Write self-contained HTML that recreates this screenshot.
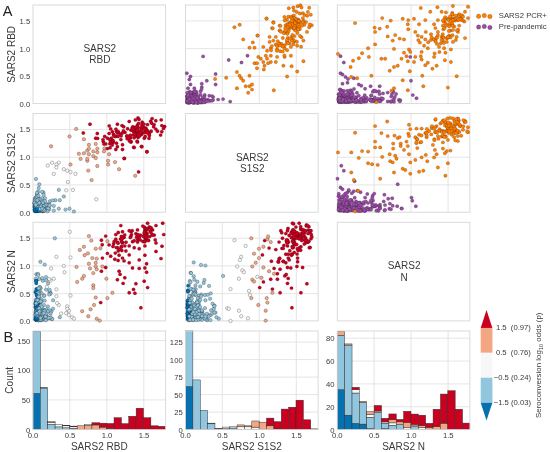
<!DOCTYPE html>
<html><head><meta charset="utf-8"><title>Figure</title>
<style>html,body{margin:0;padding:0;background:#fff}svg{display:block}text{font-family:"Liberation Sans",Arial,sans-serif;fill:#3a3a3a}.t{font-size:7.7px}.l{font-size:10px}.g{font-size:7.7px}.P{font-size:14.5px;fill:#222}.pt circle{stroke:#000;stroke-opacity:.5;stroke-width:.32}.bar rect{stroke:#2b2b2b;stroke-width:.45}.pt .k1,.pt .k2,.pt .k3{stroke-opacity:.68;stroke-width:.36}.k0{fill:#0571b0}.k1{fill:#92c5de}.k2{fill:#f7f7f7}.k3{fill:#f4a582}.k4{fill:#ca0020}</style></head><body>
<svg width="550" height="452" viewBox="0 0 550 452">
<rect width="550" height="452" fill="#fff"/>
<defs>
<clipPath id="c00"><rect x="32.4" y="4.4" width="133.8" height="99.8"/></clipPath>
<clipPath id="c01"><rect x="184.9" y="4.4" width="133.8" height="99.8"/></clipPath>
<clipPath id="c02"><rect x="336.7" y="4.4" width="133.8" height="99.8"/></clipPath>
<clipPath id="c10"><rect x="32.4" y="113.0" width="133.8" height="99.8"/></clipPath>
<clipPath id="c11"><rect x="184.9" y="113.0" width="133.8" height="99.8"/></clipPath>
<clipPath id="c12"><rect x="336.7" y="113.0" width="133.8" height="99.8"/></clipPath>
<clipPath id="c20"><rect x="32.4" y="221.7" width="133.8" height="99.8"/></clipPath>
<clipPath id="c21"><rect x="184.9" y="221.7" width="133.8" height="99.8"/></clipPath>
<clipPath id="c22"><rect x="336.7" y="221.7" width="133.8" height="99.8"/></clipPath>
<clipPath id="c30"><rect x="32.4" y="330.4" width="133.8" height="99.8"/></clipPath>
<clipPath id="c31"><rect x="184.9" y="330.4" width="133.8" height="99.8"/></clipPath>
<clipPath id="c32"><rect x="336.7" y="330.4" width="133.8" height="99.8"/></clipPath>
</defs>
<path d="M222.30 5.00V103.60M259.30 5.00V103.60M296.30 5.00V103.60M185.50 76.30H318.10M185.50 48.60H318.10M185.50 20.90H318.10" stroke="#dedede" stroke-width=".8" fill="none"/>
<rect x="185.50" y="5.00" width="132.60" height="98.60" fill="none" stroke="#d6d6d6" stroke-width=".9"/>
<g class="pt">
<g fill="#984ea3">
<circle cx="203.1" cy="56.4" r="1.72"/>
<circle cx="228.7" cy="60.0" r="1.72"/>
<circle cx="241.5" cy="62.5" r="1.72"/>
<circle cx="247.5" cy="55.7" r="1.72"/>
<circle cx="186.8" cy="73.3" r="1.72"/>
<circle cx="190.5" cy="76.5" r="1.72"/>
<circle cx="215.6" cy="74.0" r="1.72"/>
<circle cx="189.3" cy="79.5" r="1.72"/>
<circle cx="206.8" cy="80.8" r="1.72"/>
<circle cx="190.5" cy="84.5" r="1.72"/>
<circle cx="201.8" cy="83.8" r="1.72"/>
<circle cx="215.6" cy="84.5" r="1.72"/>
<circle cx="188.0" cy="88.3" r="1.72"/>
<circle cx="194.3" cy="88.3" r="1.72"/>
<circle cx="201.8" cy="87.1" r="1.72"/>
<circle cx="193.0" cy="92.1" r="1.72"/>
<circle cx="218.1" cy="99.6" r="1.72"/>
<circle cx="223.1" cy="99.1" r="1.72"/>
<circle cx="230.2" cy="101.6" r="1.72"/>
<circle cx="213.1" cy="97.1" r="1.72"/>
<circle cx="209.3" cy="95.8" r="1.72"/>
<circle cx="189.0" cy="100.0" r="1.72"/>
<circle cx="190.3" cy="99.5" r="1.72"/>
<circle cx="193.8" cy="102.4" r="1.72"/>
<circle cx="187.2" cy="96.4" r="1.72"/>
<circle cx="189.2" cy="101.8" r="1.72"/>
<circle cx="199.5" cy="100.4" r="1.72"/>
<circle cx="194.1" cy="102.1" r="1.72"/>
<circle cx="194.0" cy="95.7" r="1.72"/>
<circle cx="192.2" cy="98.0" r="1.72"/>
<circle cx="194.7" cy="102.4" r="1.72"/>
<circle cx="196.8" cy="99.6" r="1.72"/>
<circle cx="189.6" cy="102.6" r="1.72"/>
<circle cx="200.8" cy="100.5" r="1.72"/>
<circle cx="195.8" cy="95.4" r="1.72"/>
<circle cx="195.7" cy="93.9" r="1.72"/>
<circle cx="190.6" cy="97.1" r="1.72"/>
<circle cx="191.2" cy="93.3" r="1.72"/>
<circle cx="201.5" cy="102.3" r="1.72"/>
<circle cx="188.1" cy="101.8" r="1.72"/>
<circle cx="210.1" cy="100.7" r="1.72"/>
<circle cx="193.9" cy="101.4" r="1.72"/>
<circle cx="192.0" cy="101.0" r="1.72"/>
<circle cx="190.1" cy="99.6" r="1.72"/>
<circle cx="193.1" cy="94.6" r="1.72"/>
<circle cx="194.9" cy="93.6" r="1.72"/>
<circle cx="194.7" cy="102.1" r="1.72"/>
<circle cx="200.6" cy="91.2" r="1.72"/>
<circle cx="203.2" cy="99.8" r="1.72"/>
<circle cx="195.7" cy="101.9" r="1.72"/>
<circle cx="199.3" cy="99.7" r="1.72"/>
<circle cx="189.4" cy="102.4" r="1.72"/>
<circle cx="187.8" cy="97.1" r="1.72"/>
<circle cx="190.7" cy="102.1" r="1.72"/>
<circle cx="189.5" cy="97.6" r="1.72"/>
<circle cx="201.2" cy="102.5" r="1.72"/>
<circle cx="193.6" cy="102.5" r="1.72"/>
<circle cx="195.8" cy="101.3" r="1.72"/>
<circle cx="201.6" cy="89.1" r="1.72"/>
<circle cx="189.7" cy="102.4" r="1.72"/>
<circle cx="193.4" cy="102.6" r="1.72"/>
<circle cx="188.6" cy="100.9" r="1.72"/>
<circle cx="193.6" cy="102.1" r="1.72"/>
<circle cx="187.4" cy="95.7" r="1.72"/>
<circle cx="189.7" cy="91.7" r="1.72"/>
<circle cx="202.6" cy="101.0" r="1.72"/>
<circle cx="191.4" cy="100.1" r="1.72"/>
<circle cx="194.2" cy="99.6" r="1.72"/>
<circle cx="192.7" cy="99.3" r="1.72"/>
<circle cx="206.4" cy="100.2" r="1.72"/>
<circle cx="191.0" cy="98.3" r="1.72"/>
<circle cx="189.0" cy="101.4" r="1.72"/>
<circle cx="213.1" cy="100.1" r="1.72"/>
<circle cx="192.6" cy="102.6" r="1.72"/>
<circle cx="190.8" cy="99.7" r="1.72"/>
<circle cx="187.3" cy="99.4" r="1.72"/>
<circle cx="194.0" cy="102.5" r="1.72"/>
<circle cx="193.9" cy="100.5" r="1.72"/>
<circle cx="194.9" cy="101.2" r="1.72"/>
<circle cx="195.5" cy="98.1" r="1.72"/>
<circle cx="187.3" cy="102.5" r="1.72"/>
<circle cx="194.8" cy="91.3" r="1.72"/>
<circle cx="189.1" cy="100.6" r="1.72"/>
<circle cx="193.3" cy="101.3" r="1.72"/>
<circle cx="190.2" cy="101.4" r="1.72"/>
<circle cx="190.3" cy="99.6" r="1.72"/>
<circle cx="189.6" cy="101.0" r="1.72"/>
<circle cx="197.2" cy="102.6" r="1.72"/>
<circle cx="192.9" cy="98.1" r="1.72"/>
<circle cx="189.7" cy="101.8" r="1.72"/>
<circle cx="198.2" cy="101.7" r="1.72"/>
<circle cx="188.6" cy="100.7" r="1.72"/>
<circle cx="195.3" cy="102.3" r="1.72"/>
<circle cx="189.8" cy="101.3" r="1.72"/>
<circle cx="199.4" cy="100.7" r="1.72"/>
<circle cx="200.3" cy="102.0" r="1.72"/>
<circle cx="189.9" cy="99.1" r="1.72"/>
<circle cx="201.9" cy="100.6" r="1.72"/>
<circle cx="188.9" cy="102.2" r="1.72"/>
<circle cx="192.3" cy="101.9" r="1.72"/>
<circle cx="198.3" cy="96.4" r="1.72"/>
<circle cx="188.5" cy="101.5" r="1.72"/>
<circle cx="198.4" cy="99.1" r="1.72"/>
<circle cx="198.3" cy="101.2" r="1.72"/>
<circle cx="188.1" cy="101.5" r="1.72"/>
<circle cx="197.9" cy="101.6" r="1.72"/>
<circle cx="190.0" cy="100.8" r="1.72"/>
<circle cx="190.9" cy="100.9" r="1.72"/>
<circle cx="204.4" cy="102.1" r="1.72"/>
<circle cx="187.2" cy="92.8" r="1.72"/>
<circle cx="191.0" cy="92.4" r="1.72"/>
<circle cx="205.0" cy="101.8" r="1.72"/>
<circle cx="196.5" cy="96.4" r="1.72"/>
<circle cx="194.6" cy="100.2" r="1.72"/>
<circle cx="189.5" cy="101.2" r="1.72"/>
<circle cx="188.9" cy="102.4" r="1.72"/>
<circle cx="193.2" cy="101.5" r="1.72"/>
<circle cx="198.5" cy="102.5" r="1.72"/>
<circle cx="203.1" cy="98.6" r="1.72"/>
<circle cx="204.7" cy="94.9" r="1.72"/>
<circle cx="202.8" cy="99.7" r="1.72"/>
<circle cx="187.2" cy="98.0" r="1.72"/>
<circle cx="188.4" cy="101.4" r="1.72"/>
<circle cx="194.6" cy="100.1" r="1.72"/>
<circle cx="190.8" cy="93.1" r="1.72"/>
<circle cx="193.6" cy="101.2" r="1.72"/>
<circle cx="189.1" cy="95.9" r="1.72"/>
<circle cx="191.6" cy="97.4" r="1.72"/>
<circle cx="190.1" cy="101.9" r="1.72"/>
<circle cx="192.4" cy="96.8" r="1.72"/>
<circle cx="188.4" cy="97.3" r="1.72"/>
<circle cx="204.5" cy="97.0" r="1.72"/>
<circle cx="199.0" cy="102.6" r="1.72"/>
<circle cx="193.9" cy="95.9" r="1.72"/>
<circle cx="187.5" cy="101.6" r="1.72"/>
<circle cx="189.3" cy="100.1" r="1.72"/>
<circle cx="190.9" cy="100.5" r="1.72"/>
<circle cx="197.4" cy="102.7" r="1.72"/>
<circle cx="187.5" cy="102.2" r="1.72"/>
<circle cx="188.1" cy="102.4" r="1.72"/>
<circle cx="212.2" cy="96.1" r="1.72"/>
<circle cx="187.8" cy="100.3" r="1.72"/>
<circle cx="189.7" cy="101.4" r="1.72"/>
<circle cx="190.1" cy="99.1" r="1.72"/>
<circle cx="193.2" cy="101.1" r="1.72"/>
<circle cx="188.6" cy="101.3" r="1.72"/>
<circle cx="188.0" cy="99.9" r="1.72"/>
<circle cx="195.7" cy="101.0" r="1.72"/>
<circle cx="187.7" cy="102.0" r="1.72"/>
<circle cx="190.3" cy="99.5" r="1.72"/>
<circle cx="197.5" cy="101.0" r="1.72"/>
<circle cx="198.1" cy="99.3" r="1.72"/>
<circle cx="191.0" cy="101.1" r="1.72"/>
<circle cx="191.8" cy="98.5" r="1.72"/>
<circle cx="190.9" cy="98.6" r="1.72"/>
<circle cx="191.4" cy="101.7" r="1.72"/>
<circle cx="192.4" cy="98.6" r="1.72"/>
<circle cx="187.7" cy="100.8" r="1.72"/>
<circle cx="190.9" cy="95.4" r="1.72"/>
<circle cx="205.9" cy="101.1" r="1.72"/>
<circle cx="202.7" cy="97.3" r="1.72"/>
<circle cx="189.2" cy="100.5" r="1.72"/>
<circle cx="188.0" cy="96.9" r="1.72"/>
<circle cx="194.5" cy="95.2" r="1.72"/>
<circle cx="197.9" cy="98.9" r="1.72"/>
<circle cx="196.2" cy="99.8" r="1.72"/>
<circle cx="187.9" cy="99.6" r="1.72"/>
<circle cx="187.2" cy="102.1" r="1.72"/>
<circle cx="197.3" cy="102.5" r="1.72"/>
<circle cx="187.8" cy="102.3" r="1.72"/>
<circle cx="201.6" cy="102.0" r="1.72"/>
<circle cx="187.3" cy="96.3" r="1.72"/>
<circle cx="188.0" cy="96.3" r="1.72"/>
<circle cx="194.8" cy="96.5" r="1.72"/>
<circle cx="207.9" cy="99.7" r="1.72"/>
<circle cx="198.1" cy="102.5" r="1.72"/>
<circle cx="197.1" cy="100.2" r="1.72"/>
<circle cx="195.7" cy="102.3" r="1.72"/>
<circle cx="196.6" cy="93.3" r="1.72"/>
<circle cx="187.6" cy="101.3" r="1.72"/>
<circle cx="192.8" cy="96.6" r="1.72"/>
<circle cx="189.0" cy="102.0" r="1.72"/>
<circle cx="189.1" cy="99.4" r="1.72"/>
<circle cx="196.7" cy="101.0" r="1.72"/>
<circle cx="190.3" cy="100.9" r="1.72"/>
<circle cx="190.1" cy="100.8" r="1.72"/>
<circle cx="187.7" cy="100.3" r="1.72"/>
<circle cx="211.8" cy="100.8" r="1.72"/>
<circle cx="196.5" cy="102.1" r="1.72"/>
<circle cx="195.1" cy="97.8" r="1.72"/>
<circle cx="194.8" cy="100.2" r="1.72"/>
<circle cx="191.7" cy="99.1" r="1.72"/>
<circle cx="202.7" cy="102.1" r="1.72"/>
<circle cx="187.8" cy="97.9" r="1.72"/>
<circle cx="204.1" cy="100.2" r="1.72"/>
<circle cx="191.1" cy="98.3" r="1.72"/>
<circle cx="188.6" cy="101.6" r="1.72"/>
<circle cx="188.7" cy="99.6" r="1.72"/>
<circle cx="189.7" cy="101.8" r="1.72"/>
<circle cx="195.1" cy="92.1" r="1.72"/>
<circle cx="189.5" cy="98.5" r="1.72"/>
<circle cx="190.8" cy="96.1" r="1.72"/>
<circle cx="193.1" cy="101.6" r="1.72"/>
<circle cx="188.8" cy="102.6" r="1.72"/>
<circle cx="191.6" cy="101.0" r="1.72"/>
<circle cx="188.4" cy="101.1" r="1.72"/>
<circle cx="189.8" cy="97.6" r="1.72"/>
<circle cx="191.6" cy="99.5" r="1.72"/>
<circle cx="191.4" cy="96.5" r="1.72"/>
<circle cx="198.9" cy="99.9" r="1.72"/>
<circle cx="191.6" cy="98.3" r="1.72"/>
<circle cx="200.4" cy="100.9" r="1.72"/>
<circle cx="196.2" cy="91.6" r="1.72"/>
<circle cx="191.4" cy="101.8" r="1.72"/>
<circle cx="189.0" cy="98.3" r="1.72"/>
<circle cx="194.8" cy="91.7" r="1.72"/>
<circle cx="200.2" cy="101.7" r="1.72"/>
<circle cx="188.6" cy="101.6" r="1.72"/>
<circle cx="188.6" cy="98.5" r="1.72"/>
<circle cx="200.5" cy="94.8" r="1.72"/>
<circle cx="189.2" cy="95.8" r="1.72"/>
<circle cx="189.7" cy="100.8" r="1.72"/>
<circle cx="196.0" cy="102.4" r="1.72"/>
<circle cx="187.8" cy="96.5" r="1.72"/>
<circle cx="189.5" cy="101.2" r="1.72"/>
<circle cx="193.1" cy="98.8" r="1.72"/>
<circle cx="187.2" cy="101.3" r="1.72"/>
<circle cx="191.1" cy="100.4" r="1.72"/>
<circle cx="188.8" cy="99.6" r="1.72"/>
<circle cx="208.3" cy="101.0" r="1.72"/>
<circle cx="192.5" cy="102.2" r="1.72"/>
<circle cx="189.3" cy="98.9" r="1.72"/>
<circle cx="188.0" cy="95.2" r="1.72"/>
<circle cx="203.5" cy="102.3" r="1.72"/>
<circle cx="206.5" cy="101.1" r="1.72"/>
<circle cx="197.2" cy="97.8" r="1.72"/>
</g>
<g fill="#ff7f00">
<circle cx="234.4" cy="27.3" r="1.72"/>
<circle cx="239.7" cy="24.8" r="1.72"/>
<circle cx="266.6" cy="18.6" r="1.72"/>
<circle cx="273.3" cy="22.3" r="1.72"/>
<circle cx="272.1" cy="28.1" r="1.72"/>
<circle cx="279.6" cy="25.6" r="1.72"/>
<circle cx="279.6" cy="30.6" r="1.72"/>
<circle cx="257.5" cy="35.6" r="1.72"/>
<circle cx="243.2" cy="39.4" r="1.72"/>
<circle cx="252.8" cy="42.4" r="1.72"/>
<circle cx="269.6" cy="36.9" r="1.72"/>
<circle cx="275.8" cy="36.9" r="1.72"/>
<circle cx="269.6" cy="41.9" r="1.72"/>
<circle cx="273.3" cy="40.6" r="1.72"/>
<circle cx="249.5" cy="47.7" r="1.72"/>
<circle cx="254.5" cy="47.7" r="1.72"/>
<circle cx="263.3" cy="46.9" r="1.72"/>
<circle cx="267.1" cy="50.7" r="1.72"/>
<circle cx="270.8" cy="48.2" r="1.72"/>
<circle cx="277.1" cy="49.4" r="1.72"/>
<circle cx="282.1" cy="45.7" r="1.72"/>
<circle cx="284.6" cy="48.2" r="1.72"/>
<circle cx="287.1" cy="50.2" r="1.72"/>
<circle cx="290.9" cy="46.9" r="1.72"/>
<circle cx="293.4" cy="44.4" r="1.72"/>
<circle cx="297.2" cy="45.7" r="1.72"/>
<circle cx="303.4" cy="40.6" r="1.72"/>
<circle cx="258.3" cy="56.9" r="1.72"/>
<circle cx="260.8" cy="58.7" r="1.72"/>
<circle cx="265.8" cy="55.7" r="1.72"/>
<circle cx="267.1" cy="58.7" r="1.72"/>
<circle cx="270.8" cy="55.7" r="1.72"/>
<circle cx="277.1" cy="56.9" r="1.72"/>
<circle cx="284.6" cy="56.9" r="1.72"/>
<circle cx="290.9" cy="55.7" r="1.72"/>
<circle cx="254.5" cy="63.2" r="1.72"/>
<circle cx="257.0" cy="63.2" r="1.72"/>
<circle cx="263.3" cy="62.0" r="1.72"/>
<circle cx="264.5" cy="65.7" r="1.72"/>
<circle cx="270.8" cy="62.0" r="1.72"/>
<circle cx="275.8" cy="62.0" r="1.72"/>
<circle cx="303.4" cy="61.2" r="1.72"/>
<circle cx="283.4" cy="65.7" r="1.72"/>
<circle cx="291.6" cy="66.2" r="1.72"/>
<circle cx="257.0" cy="68.2" r="1.72"/>
<circle cx="263.8" cy="69.5" r="1.72"/>
<circle cx="236.9" cy="72.0" r="1.72"/>
<circle cx="297.2" cy="71.5" r="1.72"/>
<circle cx="215.1" cy="79.0" r="1.72"/>
<circle cx="226.2" cy="77.8" r="1.72"/>
<circle cx="239.5" cy="75.8" r="1.72"/>
<circle cx="241.2" cy="78.3" r="1.72"/>
<circle cx="249.5" cy="75.8" r="1.72"/>
<circle cx="287.1" cy="76.5" r="1.72"/>
<circle cx="243.2" cy="80.8" r="1.72"/>
<circle cx="245.7" cy="86.3" r="1.72"/>
<circle cx="249.5" cy="86.3" r="1.72"/>
<circle cx="252.0" cy="84.5" r="1.72"/>
<circle cx="236.9" cy="88.3" r="1.72"/>
<circle cx="252.0" cy="89.6" r="1.72"/>
<circle cx="248.2" cy="92.8" r="1.72"/>
<circle cx="273.8" cy="90.3" r="1.72"/>
<circle cx="288.8" cy="8.3" r="1.72"/>
<circle cx="293.3" cy="7.5" r="1.72"/>
<circle cx="293.9" cy="10.6" r="1.72"/>
<circle cx="296.8" cy="11.9" r="1.72"/>
<circle cx="297.7" cy="6.2" r="1.72"/>
<circle cx="300.3" cy="5.3" r="1.72"/>
<circle cx="301.5" cy="7.5" r="1.72"/>
<circle cx="309.2" cy="7.8" r="1.72"/>
<circle cx="302.8" cy="13.2" r="1.72"/>
<circle cx="307.9" cy="11.9" r="1.72"/>
<circle cx="304.7" cy="15.1" r="1.72"/>
<circle cx="310.8" cy="14.7" r="1.72"/>
<circle cx="307.3" cy="15.7" r="1.72"/>
<circle cx="311.7" cy="25.3" r="1.72"/>
<circle cx="309.2" cy="27.2" r="1.72"/>
<circle cx="306.0" cy="22.1" r="1.72"/>
<circle cx="303.5" cy="20.8" r="1.72"/>
<circle cx="284.4" cy="17.0" r="1.72"/>
<circle cx="266.5" cy="18.5" r="1.72"/>
<circle cx="273.5" cy="22.7" r="1.72"/>
<circle cx="272.7" cy="28.5" r="1.72"/>
<circle cx="280.5" cy="25.9" r="1.72"/>
<circle cx="279.9" cy="30.4" r="1.72"/>
<circle cx="257.6" cy="35.5" r="1.72"/>
<circle cx="292.5" cy="16.5" r="1.72"/>
<circle cx="289.1" cy="28.9" r="1.72"/>
<circle cx="293.9" cy="15.4" r="1.72"/>
<circle cx="302.9" cy="22.3" r="1.72"/>
<circle cx="292.2" cy="22.9" r="1.72"/>
<circle cx="289.7" cy="22.6" r="1.72"/>
<circle cx="293.2" cy="28.3" r="1.72"/>
<circle cx="291.6" cy="23.5" r="1.72"/>
<circle cx="290.0" cy="27.3" r="1.72"/>
<circle cx="299.8" cy="13.5" r="1.72"/>
<circle cx="293.2" cy="24.0" r="1.72"/>
<circle cx="297.6" cy="22.5" r="1.72"/>
<circle cx="290.5" cy="17.0" r="1.72"/>
<circle cx="289.0" cy="25.9" r="1.72"/>
<circle cx="291.1" cy="26.2" r="1.72"/>
<circle cx="293.5" cy="19.9" r="1.72"/>
<circle cx="302.8" cy="18.1" r="1.72"/>
<circle cx="295.0" cy="27.1" r="1.72"/>
<circle cx="294.5" cy="25.9" r="1.72"/>
<circle cx="294.3" cy="18.1" r="1.72"/>
<circle cx="296.0" cy="22.7" r="1.72"/>
<circle cx="290.6" cy="22.7" r="1.72"/>
<circle cx="295.4" cy="25.7" r="1.72"/>
<circle cx="292.0" cy="18.8" r="1.72"/>
<circle cx="285.6" cy="25.2" r="1.72"/>
<circle cx="288.3" cy="16.7" r="1.72"/>
<circle cx="298.2" cy="19.4" r="1.72"/>
<circle cx="297.0" cy="20.5" r="1.72"/>
<circle cx="296.4" cy="28.2" r="1.72"/>
<circle cx="296.3" cy="19.4" r="1.72"/>
<circle cx="286.9" cy="19.8" r="1.72"/>
<circle cx="298.5" cy="27.7" r="1.72"/>
<circle cx="292.2" cy="23.7" r="1.72"/>
<circle cx="291.9" cy="20.9" r="1.72"/>
<circle cx="287.7" cy="24.0" r="1.72"/>
<circle cx="296.1" cy="18.9" r="1.72"/>
<circle cx="295.1" cy="23.0" r="1.72"/>
<circle cx="298.7" cy="29.5" r="1.72"/>
<circle cx="300.0" cy="22.5" r="1.72"/>
<circle cx="287.9" cy="24.8" r="1.72"/>
<circle cx="284.6" cy="31.9" r="1.72"/>
<circle cx="293.0" cy="25.4" r="1.72"/>
<circle cx="298.9" cy="25.0" r="1.72"/>
<circle cx="287.6" cy="27.0" r="1.72"/>
<circle cx="309.8" cy="24.5" r="1.72"/>
<circle cx="287.5" cy="42.9" r="1.72"/>
<circle cx="282.8" cy="38.0" r="1.72"/>
<circle cx="297.5" cy="20.5" r="1.72"/>
<circle cx="304.4" cy="24.8" r="1.72"/>
<circle cx="287.0" cy="42.0" r="1.72"/>
<circle cx="271.1" cy="50.4" r="1.72"/>
<circle cx="297.4" cy="33.0" r="1.72"/>
<circle cx="296.9" cy="41.8" r="1.72"/>
<circle cx="302.0" cy="25.7" r="1.72"/>
<circle cx="293.7" cy="28.4" r="1.72"/>
<circle cx="271.8" cy="46.1" r="1.72"/>
<circle cx="284.7" cy="20.5" r="1.72"/>
<circle cx="291.6" cy="37.0" r="1.72"/>
<circle cx="301.5" cy="37.2" r="1.72"/>
<circle cx="307.0" cy="31.9" r="1.72"/>
<circle cx="292.8" cy="39.9" r="1.72"/>
<circle cx="301.1" cy="46.8" r="1.72"/>
<circle cx="300.0" cy="35.9" r="1.72"/>
<circle cx="293.8" cy="41.5" r="1.72"/>
<circle cx="295.5" cy="29.4" r="1.72"/>
<circle cx="299.0" cy="26.8" r="1.72"/>
<circle cx="299.3" cy="21.0" r="1.72"/>
<circle cx="289.6" cy="43.5" r="1.72"/>
<circle cx="281.0" cy="31.7" r="1.72"/>
<circle cx="289.7" cy="24.7" r="1.72"/>
<circle cx="293.8" cy="40.3" r="1.72"/>
<circle cx="291.6" cy="40.6" r="1.72"/>
<circle cx="285.2" cy="28.1" r="1.72"/>
<circle cx="287.7" cy="37.9" r="1.72"/>
<circle cx="299.9" cy="29.0" r="1.72"/>
<circle cx="294.4" cy="36.1" r="1.72"/>
<circle cx="287.2" cy="33.3" r="1.72"/>
<circle cx="294.8" cy="26.3" r="1.72"/>
<circle cx="288.5" cy="31.2" r="1.72"/>
<circle cx="297.9" cy="29.3" r="1.72"/>
<circle cx="298.8" cy="21.1" r="1.72"/>
<circle cx="295.2" cy="30.5" r="1.72"/>
<circle cx="284.0" cy="33.3" r="1.72"/>
<circle cx="292.4" cy="35.0" r="1.72"/>
<circle cx="285.4" cy="30.7" r="1.72"/>
<circle cx="294.2" cy="27.9" r="1.72"/>
<circle cx="287.6" cy="33.7" r="1.72"/>
<circle cx="287.0" cy="40.2" r="1.72"/>
<circle cx="279.9" cy="43.7" r="1.72"/>
<circle cx="276.8" cy="50.8" r="1.72"/>
<circle cx="280.1" cy="51.2" r="1.72"/>
<circle cx="284.7" cy="45.3" r="1.72"/>
<circle cx="277.8" cy="41.3" r="1.72"/>
<circle cx="282.7" cy="51.4" r="1.72"/>
<circle cx="275.6" cy="44.5" r="1.72"/>
<circle cx="268.1" cy="63.3" r="1.72"/>
<circle cx="277.2" cy="46.3" r="1.72"/>
<circle cx="281.6" cy="43.9" r="1.72"/>
<circle cx="279.0" cy="44.0" r="1.72"/>
<circle cx="290.0" cy="38.5" r="1.72"/>
<circle cx="282.6" cy="46.3" r="1.72"/>
<circle cx="287.8" cy="43.2" r="1.72"/>
<circle cx="284.4" cy="55.5" r="1.72"/>
<circle cx="280.0" cy="45.6" r="1.72"/>
</g>
</g>
<path d="M69.80 113.60V212.20M106.80 113.60V212.20M143.80 113.60V212.20M33.00 184.90H165.60M33.00 157.20H165.60M33.00 129.50H165.60" stroke="#dedede" stroke-width=".8" fill="none"/>
<rect x="33.00" y="113.60" width="132.60" height="98.60" fill="none" stroke="#d6d6d6" stroke-width=".9"/>
<g class="pt">
<circle class="k1" cx="35.1" cy="204.8" r="1.72"/>
<circle class="k4" cx="120.9" cy="139.6" r="1.72"/>
<circle class="k4" cx="120.3" cy="134.2" r="1.72"/>
<circle class="k4" cx="112.9" cy="142.5" r="1.72"/>
<circle class="k4" cx="122.3" cy="133.0" r="1.72"/>
<circle class="k4" cx="110.7" cy="140.1" r="1.72"/>
<circle class="k4" cx="118.4" cy="132.1" r="1.72"/>
<circle class="k1" cx="43.0" cy="211.1" r="1.72"/>
<circle class="k3" cx="93.3" cy="156.1" r="1.72"/>
<circle class="k1" cx="44.3" cy="208.4" r="1.72"/>
<circle class="k1" cx="43.4" cy="208.5" r="1.72"/>
<circle class="k1" cx="45.3" cy="206.7" r="1.72"/>
<circle class="k1" cx="34.6" cy="203.6" r="1.72"/>
<circle class="k4" cx="127.2" cy="136.3" r="1.72"/>
<circle class="k4" cx="130.8" cy="142.0" r="1.72"/>
<circle class="k1" cx="38.7" cy="188.0" r="1.72"/>
<circle class="k3" cx="51.1" cy="146.3" r="1.72"/>
<circle class="k2" cx="66.2" cy="190.3" r="1.72"/>
<circle class="k0" cx="35.8" cy="208.0" r="1.72"/>
<circle class="k4" cx="136.8" cy="133.4" r="1.72"/>
<circle class="k2" cx="96.3" cy="199.3" r="1.72"/>
<circle class="k1" cx="47.1" cy="204.2" r="1.72"/>
<circle class="k0" cx="34.6" cy="207.2" r="1.72"/>
<circle class="k4" cx="133.7" cy="131.4" r="1.72"/>
<circle class="k4" cx="141.4" cy="133.7" r="1.72"/>
<circle class="k1" cx="63.8" cy="196.5" r="1.72"/>
<circle class="k4" cx="103.3" cy="141.6" r="1.72"/>
<circle class="k4" cx="117.4" cy="146.7" r="1.72"/>
<circle class="k1" cx="42.9" cy="205.5" r="1.72"/>
<circle class="k1" cx="39.3" cy="184.3" r="1.72"/>
<circle class="k3" cx="119.1" cy="169.2" r="1.72"/>
<circle class="k4" cx="137.2" cy="134.9" r="1.72"/>
<circle class="k1" cx="73.9" cy="211.5" r="1.72"/>
<circle class="k4" cx="113.3" cy="141.8" r="1.72"/>
<circle class="k4" cx="115.8" cy="149.5" r="1.72"/>
<circle class="k1" cx="36.8" cy="207.6" r="1.72"/>
<circle class="k4" cx="135.6" cy="130.5" r="1.72"/>
<circle class="k4" cx="138.6" cy="171.9" r="1.72"/>
<circle class="k1" cx="37.9" cy="203.8" r="1.72"/>
<circle class="k1" cx="37.5" cy="201.0" r="1.72"/>
<circle class="k1" cx="55.4" cy="200.2" r="1.72"/>
<circle class="k2" cx="52.1" cy="162.7" r="1.72"/>
<circle class="k0" cx="36.3" cy="209.3" r="1.72"/>
<circle class="k0" cx="37.8" cy="210.8" r="1.72"/>
<circle class="k2" cx="58.8" cy="162.7" r="1.72"/>
<circle class="k1" cx="35.0" cy="199.0" r="1.72"/>
<circle class="k0" cx="35.2" cy="207.2" r="1.72"/>
<circle class="k1" cx="39.7" cy="206.8" r="1.72"/>
<circle class="k4" cx="114.4" cy="136.1" r="1.72"/>
<circle class="k0" cx="35.2" cy="209.9" r="1.72"/>
<circle class="k4" cx="131.2" cy="141.8" r="1.72"/>
<circle class="k1" cx="36.6" cy="205.4" r="1.72"/>
<circle class="k4" cx="141.4" cy="146.5" r="1.72"/>
<circle class="k4" cx="110.7" cy="128.9" r="1.72"/>
<circle class="k1" cx="36.5" cy="202.8" r="1.72"/>
<circle class="k4" cx="155.8" cy="129.1" r="1.72"/>
<circle class="k0" cx="34.9" cy="209.9" r="1.72"/>
<circle class="k0" cx="38.6" cy="210.7" r="1.72"/>
<circle class="k1" cx="42.9" cy="211.1" r="1.72"/>
<circle class="k0" cx="35.8" cy="209.3" r="1.72"/>
<circle class="k0" cx="38.6" cy="210.0" r="1.72"/>
<circle class="k4" cx="134.8" cy="127.8" r="1.72"/>
<circle class="k1" cx="38.5" cy="199.5" r="1.72"/>
<circle class="k3" cx="97.3" cy="166.0" r="1.72"/>
<circle class="k1" cx="36.8" cy="199.6" r="1.72"/>
<circle class="k0" cx="37.4" cy="209.7" r="1.72"/>
<circle class="k1" cx="40.4" cy="208.2" r="1.72"/>
<circle class="k4" cx="135.7" cy="136.0" r="1.72"/>
<circle class="k4" cx="149.0" cy="138.4" r="1.72"/>
<circle class="k4" cx="131.0" cy="130.3" r="1.72"/>
<circle class="k1" cx="38.7" cy="208.9" r="1.72"/>
<circle class="k1" cx="37.2" cy="194.1" r="1.72"/>
<circle class="k4" cx="164.6" cy="126.5" r="1.72"/>
<circle class="k1" cx="47.4" cy="208.5" r="1.72"/>
<circle class="k4" cx="122.0" cy="125.6" r="1.72"/>
<circle class="k1" cx="41.1" cy="203.7" r="1.72"/>
<circle class="k4" cx="161.2" cy="119.9" r="1.72"/>
<circle class="k1" cx="34.9" cy="206.1" r="1.72"/>
<circle class="k0" cx="34.7" cy="210.0" r="1.72"/>
<circle class="k0" cx="35.9" cy="208.1" r="1.72"/>
<circle class="k4" cx="124.4" cy="158.4" r="1.72"/>
<circle class="k4" cx="138.0" cy="118.0" r="1.72"/>
<circle class="k1" cx="35.4" cy="205.5" r="1.72"/>
<circle class="k0" cx="35.7" cy="209.3" r="1.72"/>
<circle class="k1" cx="46.7" cy="205.4" r="1.72"/>
<circle class="k1" cx="43.9" cy="206.1" r="1.72"/>
<circle class="k0" cx="36.7" cy="208.3" r="1.72"/>
<circle class="k0" cx="36.6" cy="209.5" r="1.72"/>
<circle class="k0" cx="36.0" cy="211.0" r="1.72"/>
<circle class="k4" cx="149.0" cy="133.9" r="1.72"/>
<circle class="k0" cx="35.1" cy="210.7" r="1.72"/>
<circle class="k4" cx="136.5" cy="130.6" r="1.72"/>
<circle class="k4" cx="117.4" cy="133.0" r="1.72"/>
<circle class="k4" cx="123.7" cy="126.7" r="1.72"/>
<circle class="k1" cx="37.5" cy="206.2" r="1.72"/>
<circle class="k4" cx="144.4" cy="128.6" r="1.72"/>
<circle class="k1" cx="35.3" cy="206.0" r="1.72"/>
<circle class="k4" cx="147.5" cy="124.6" r="1.72"/>
<circle class="k0" cx="37.1" cy="210.8" r="1.72"/>
<circle class="k3" cx="91.6" cy="180.1" r="1.72"/>
<circle class="k4" cx="157.5" cy="131.3" r="1.72"/>
<circle class="k1" cx="41.8" cy="210.3" r="1.72"/>
<circle class="k1" cx="37.5" cy="208.4" r="1.72"/>
<circle class="k3" cx="69.5" cy="136.4" r="1.72"/>
<circle class="k4" cx="132.3" cy="127.7" r="1.72"/>
<circle class="k1" cx="35.0" cy="204.6" r="1.72"/>
<circle class="k0" cx="36.0" cy="210.2" r="1.72"/>
<circle class="k1" cx="38.0" cy="191.8" r="1.72"/>
<circle class="k4" cx="163.5" cy="128.4" r="1.72"/>
<circle class="k1" cx="35.7" cy="197.8" r="1.72"/>
<circle class="k0" cx="37.4" cy="209.7" r="1.72"/>
<circle class="k4" cx="140.1" cy="132.6" r="1.72"/>
<circle class="k1" cx="36.8" cy="203.4" r="1.72"/>
<circle class="k1" cx="42.9" cy="204.2" r="1.72"/>
<circle class="k4" cx="141.4" cy="129.8" r="1.72"/>
<circle class="k4" cx="144.3" cy="138.2" r="1.72"/>
<circle class="k4" cx="150.7" cy="121.3" r="1.72"/>
<circle class="k1" cx="49.9" cy="201.2" r="1.72"/>
<circle class="k1" cx="41.6" cy="207.9" r="1.72"/>
<circle class="k4" cx="138.3" cy="127.6" r="1.72"/>
<circle class="k4" cx="83.3" cy="133.0" r="1.72"/>
<circle class="k1" cx="34.8" cy="202.7" r="1.72"/>
<circle class="k4" cx="139.7" cy="131.8" r="1.72"/>
<circle class="k1" cx="36.8" cy="204.8" r="1.72"/>
<circle class="k4" cx="116.4" cy="131.4" r="1.72"/>
<circle class="k4" cx="137.4" cy="125.3" r="1.72"/>
<circle class="k1" cx="47.2" cy="208.2" r="1.72"/>
<circle class="k1" cx="36.3" cy="206.6" r="1.72"/>
<circle class="k1" cx="42.8" cy="210.7" r="1.72"/>
<circle class="k4" cx="153.6" cy="126.8" r="1.72"/>
<circle class="k1" cx="35.0" cy="200.5" r="1.72"/>
<circle class="k3" cx="108.1" cy="160.8" r="1.72"/>
<circle class="k1" cx="39.6" cy="203.2" r="1.72"/>
<circle class="k4" cx="138.5" cy="123.5" r="1.72"/>
<circle class="k1" cx="41.4" cy="209.2" r="1.72"/>
<circle class="k4" cx="134.4" cy="131.1" r="1.72"/>
<circle class="k0" cx="36.5" cy="209.5" r="1.72"/>
<circle class="k1" cx="40.4" cy="209.9" r="1.72"/>
<circle class="k4" cx="125.0" cy="132.4" r="1.72"/>
<circle class="k1" cx="44.3" cy="204.7" r="1.72"/>
<circle class="k1" cx="43.7" cy="209.7" r="1.72"/>
<circle class="k1" cx="34.7" cy="203.7" r="1.72"/>
<circle class="k3" cx="83.9" cy="153.3" r="1.72"/>
<circle class="k0" cx="35.3" cy="208.5" r="1.72"/>
<circle class="k1" cx="35.8" cy="202.9" r="1.72"/>
<circle class="k1" cx="36.7" cy="196.8" r="1.72"/>
<circle class="k1" cx="37.9" cy="198.6" r="1.72"/>
<circle class="k1" cx="35.4" cy="201.4" r="1.72"/>
<circle class="k0" cx="34.7" cy="206.5" r="1.72"/>
<circle class="k1" cx="43.4" cy="192.5" r="1.72"/>
<circle class="k1" cx="36.2" cy="206.2" r="1.72"/>
<circle class="k1" cx="38.8" cy="208.9" r="1.72"/>
<circle class="k4" cx="141.5" cy="134.5" r="1.72"/>
<circle class="k4" cx="133.7" cy="147.2" r="1.72"/>
<circle class="k4" cx="139.7" cy="135.9" r="1.72"/>
<circle class="k1" cx="34.8" cy="206.4" r="1.72"/>
<circle class="k1" cx="37.5" cy="202.0" r="1.72"/>
<circle class="k4" cx="110.8" cy="141.7" r="1.72"/>
<circle class="k4" cx="115.6" cy="136.5" r="1.72"/>
<circle class="k1" cx="35.4" cy="198.3" r="1.72"/>
<circle class="k1" cx="37.9" cy="208.1" r="1.72"/>
<circle class="k0" cx="36.4" cy="210.9" r="1.72"/>
<circle class="k3" cx="88.3" cy="170.6" r="1.72"/>
<circle class="k1" cx="48.7" cy="206.8" r="1.72"/>
<circle class="k1" cx="41.8" cy="199.6" r="1.72"/>
<circle class="k1" cx="59.8" cy="200.2" r="1.72"/>
<circle class="k2" cx="56.4" cy="164.5" r="1.72"/>
<circle class="k4" cx="129.2" cy="121.5" r="1.72"/>
<circle class="k0" cx="36.4" cy="211.2" r="1.72"/>
<circle class="k1" cx="43.9" cy="211.0" r="1.72"/>
<circle class="k2" cx="70.5" cy="172.1" r="1.72"/>
<circle class="k1" cx="35.4" cy="204.2" r="1.72"/>
<circle class="k0" cx="36.2" cy="209.8" r="1.72"/>
<circle class="k1" cx="42.3" cy="210.5" r="1.72"/>
<circle class="k4" cx="146.5" cy="129.7" r="1.72"/>
<circle class="k2" cx="67.8" cy="182.0" r="1.72"/>
<circle class="k4" cx="138.7" cy="134.4" r="1.72"/>
<circle class="k3" cx="109.1" cy="154.2" r="1.72"/>
<circle class="k1" cx="40.0" cy="207.3" r="1.72"/>
<circle class="k1" cx="37.8" cy="196.8" r="1.72"/>
<circle class="k1" cx="40.4" cy="208.3" r="1.72"/>
<circle class="k1" cx="36.9" cy="201.3" r="1.72"/>
<circle class="k0" cx="35.9" cy="210.1" r="1.72"/>
<circle class="k1" cx="42.4" cy="207.3" r="1.72"/>
<circle class="k1" cx="40.7" cy="205.0" r="1.72"/>
<circle class="k2" cx="63.8" cy="169.2" r="1.72"/>
<circle class="k3" cx="87.3" cy="160.8" r="1.72"/>
<circle class="k1" cx="38.0" cy="205.7" r="1.72"/>
<circle class="k4" cx="127.6" cy="128.7" r="1.72"/>
<circle class="k0" cx="34.7" cy="209.4" r="1.72"/>
<circle class="k3" cx="97.3" cy="152.3" r="1.72"/>
<circle class="k1" cx="38.6" cy="208.5" r="1.72"/>
<circle class="k4" cx="160.6" cy="135.1" r="1.72"/>
<circle class="k1" cx="40.4" cy="207.9" r="1.72"/>
<circle class="k1" cx="37.9" cy="205.5" r="1.72"/>
<circle class="k2" cx="67.2" cy="170.7" r="1.72"/>
<circle class="k4" cx="115.9" cy="129.1" r="1.72"/>
<circle class="k3" cx="70.5" cy="164.5" r="1.72"/>
<circle class="k1" cx="38.8" cy="208.8" r="1.72"/>
<circle class="k1" cx="44.6" cy="205.7" r="1.72"/>
<circle class="k1" cx="38.7" cy="206.0" r="1.72"/>
<circle class="k4" cx="133.1" cy="134.9" r="1.72"/>
<circle class="k4" cx="95.7" cy="138.2" r="1.72"/>
<circle class="k1" cx="35.8" cy="201.4" r="1.72"/>
<circle class="k1" cx="35.5" cy="200.4" r="1.72"/>
<circle class="k1" cx="46.2" cy="204.8" r="1.72"/>
<circle class="k1" cx="37.9" cy="205.7" r="1.72"/>
<circle class="k4" cx="143.6" cy="127.6" r="1.72"/>
<circle class="k4" cx="135.9" cy="127.5" r="1.72"/>
<circle class="k3" cx="80.6" cy="158.9" r="1.72"/>
<circle class="k0" cx="38.0" cy="209.6" r="1.72"/>
<circle class="k0" cx="37.2" cy="210.2" r="1.72"/>
<circle class="k3" cx="108.1" cy="164.5" r="1.72"/>
<circle class="k1" cx="42.0" cy="210.7" r="1.72"/>
<circle class="k0" cx="34.9" cy="205.5" r="1.72"/>
<circle class="k1" cx="36.1" cy="206.7" r="1.72"/>
<circle class="k0" cx="37.1" cy="209.0" r="1.72"/>
<circle class="k3" cx="76.2" cy="128.9" r="1.72"/>
<circle class="k3" cx="115.1" cy="162.1" r="1.72"/>
<circle class="k4" cx="142.2" cy="122.2" r="1.72"/>
<circle class="k1" cx="42.7" cy="207.0" r="1.72"/>
<circle class="k4" cx="134.0" cy="131.9" r="1.72"/>
<circle class="k4" cx="146.9" cy="151.8" r="1.72"/>
<circle class="k1" cx="38.3" cy="202.4" r="1.72"/>
<circle class="k4" cx="135.3" cy="134.2" r="1.72"/>
<circle class="k1" cx="45.0" cy="198.1" r="1.72"/>
<circle class="k4" cx="124.1" cy="158.5" r="1.72"/>
<circle class="k4" cx="147.0" cy="151.8" r="1.72"/>
<circle class="k4" cx="116.5" cy="143.3" r="1.72"/>
<circle class="k1" cx="43.7" cy="206.2" r="1.72"/>
<circle class="k4" cx="161.8" cy="125.6" r="1.72"/>
<circle class="k1" cx="35.4" cy="206.4" r="1.72"/>
<circle class="k4" cx="97.3" cy="133.5" r="1.72"/>
<circle class="k1" cx="49.2" cy="209.3" r="1.72"/>
<circle class="k0" cx="36.2" cy="210.3" r="1.72"/>
<circle class="k4" cx="137.7" cy="132.0" r="1.72"/>
<circle class="k4" cx="151.6" cy="123.2" r="1.72"/>
<circle class="k1" cx="36.4" cy="204.8" r="1.72"/>
<circle class="k1" cx="39.6" cy="209.6" r="1.72"/>
<circle class="k3" cx="97.3" cy="148.6" r="1.72"/>
<circle class="k1" cx="36.0" cy="179.0" r="1.72"/>
<circle class="k4" cx="90.0" cy="124.2" r="1.72"/>
<circle class="k4" cx="145.2" cy="131.6" r="1.72"/>
<circle class="k0" cx="37.1" cy="209.0" r="1.72"/>
<circle class="k0" cx="35.5" cy="210.8" r="1.72"/>
<circle class="k4" cx="130.8" cy="137.7" r="1.72"/>
<circle class="k0" cx="36.1" cy="210.2" r="1.72"/>
<circle class="k3" cx="104.5" cy="148.4" r="1.72"/>
<circle class="k4" cx="105.7" cy="143.9" r="1.72"/>
<circle class="k1" cx="36.9" cy="195.4" r="1.72"/>
<circle class="k4" cx="109.1" cy="133.5" r="1.72"/>
<circle class="k3" cx="87.2" cy="150.6" r="1.72"/>
<circle class="k4" cx="111.3" cy="138.2" r="1.72"/>
<circle class="k1" cx="40.9" cy="210.7" r="1.72"/>
<circle class="k4" cx="134.2" cy="137.8" r="1.72"/>
<circle class="k4" cx="117.9" cy="131.4" r="1.72"/>
<circle class="k0" cx="38.2" cy="209.8" r="1.72"/>
<circle class="k1" cx="36.5" cy="206.4" r="1.72"/>
<circle class="k4" cx="143.9" cy="132.8" r="1.72"/>
<circle class="k1" cx="53.8" cy="205.9" r="1.72"/>
<circle class="k1" cx="39.1" cy="203.0" r="1.72"/>
<circle class="k3" cx="95.7" cy="143.9" r="1.72"/>
<circle class="k0" cx="35.2" cy="210.9" r="1.72"/>
<circle class="k4" cx="122.5" cy="144.8" r="1.72"/>
<circle class="k0" cx="38.3" cy="210.5" r="1.72"/>
<circle class="k1" cx="37.0" cy="192.8" r="1.72"/>
<circle class="k1" cx="36.7" cy="197.2" r="1.72"/>
<circle class="k0" cx="36.8" cy="207.9" r="1.72"/>
<circle class="k0" cx="36.4" cy="210.1" r="1.72"/>
<circle class="k1" cx="49.2" cy="205.5" r="1.72"/>
<circle class="k3" cx="88.9" cy="154.2" r="1.72"/>
<circle class="k1" cx="45.1" cy="201.2" r="1.72"/>
<circle class="k1" cx="40.8" cy="207.4" r="1.72"/>
<circle class="k3" cx="104.0" cy="151.4" r="1.72"/>
<circle class="k0" cx="36.7" cy="209.4" r="1.72"/>
<circle class="k4" cx="137.5" cy="142.0" r="1.72"/>
<circle class="k3" cx="83.9" cy="139.2" r="1.72"/>
<circle class="k4" cx="147.5" cy="131.0" r="1.72"/>
<circle class="k0" cx="38.6" cy="210.1" r="1.72"/>
<circle class="k0" cx="34.9" cy="206.2" r="1.72"/>
<circle class="k4" cx="135.4" cy="119.9" r="1.72"/>
<circle class="k4" cx="138.1" cy="137.5" r="1.72"/>
<circle class="k4" cx="141.2" cy="132.6" r="1.72"/>
<circle class="k3" cx="93.3" cy="151.4" r="1.72"/>
<circle class="k1" cx="49.4" cy="204.5" r="1.72"/>
<circle class="k4" cx="112.4" cy="131.7" r="1.72"/>
<circle class="k3" cx="88.9" cy="144.8" r="1.72"/>
<circle class="k3" cx="78.9" cy="153.8" r="1.72"/>
<circle class="k4" cx="140.3" cy="133.0" r="1.72"/>
<circle class="k0" cx="37.8" cy="210.8" r="1.72"/>
<circle class="k0" cx="35.6" cy="209.0" r="1.72"/>
<circle class="k4" cx="127.2" cy="138.7" r="1.72"/>
<circle class="k1" cx="38.5" cy="202.1" r="1.72"/>
<circle class="k4" cx="142.0" cy="124.6" r="1.72"/>
<circle class="k1" cx="35.3" cy="199.6" r="1.72"/>
<circle class="k1" cx="42.9" cy="202.8" r="1.72"/>
<circle class="k4" cx="145.2" cy="136.5" r="1.72"/>
<circle class="k4" cx="149.4" cy="135.5" r="1.72"/>
<circle class="k0" cx="36.6" cy="210.3" r="1.72"/>
<circle class="k0" cx="37.6" cy="208.3" r="1.72"/>
<circle class="k1" cx="42.1" cy="198.2" r="1.72"/>
<circle class="k1" cx="40.9" cy="211.1" r="1.72"/>
<circle class="k1" cx="34.8" cy="200.7" r="1.72"/>
<circle class="k4" cx="121.1" cy="135.9" r="1.72"/>
<circle class="k1" cx="58.8" cy="189.9" r="1.72"/>
<circle class="k2" cx="53.8" cy="173.9" r="1.72"/>
<circle class="k0" cx="36.0" cy="206.7" r="1.72"/>
<circle class="k0" cx="37.0" cy="210.1" r="1.72"/>
<circle class="k1" cx="47.7" cy="211.2" r="1.72"/>
<circle class="k4" cx="107.4" cy="148.6" r="1.72"/>
<circle class="k4" cx="110.1" cy="147.8" r="1.72"/>
<circle class="k1" cx="48.6" cy="205.2" r="1.72"/>
<circle class="k4" cx="109.2" cy="125.9" r="1.72"/>
<circle class="k3" cx="87.3" cy="158.9" r="1.72"/>
<circle class="k0" cx="36.4" cy="209.2" r="1.72"/>
<circle class="k4" cx="134.0" cy="129.4" r="1.72"/>
<circle class="k4" cx="141.6" cy="128.5" r="1.72"/>
<circle class="k1" cx="48.3" cy="208.3" r="1.72"/>
<circle class="k1" cx="43.1" cy="210.6" r="1.72"/>
<circle class="k1" cx="40.1" cy="207.7" r="1.72"/>
<circle class="k0" cx="34.9" cy="210.5" r="1.72"/>
<circle class="k1" cx="40.0" cy="199.3" r="1.72"/>
<circle class="k0" cx="35.8" cy="209.7" r="1.72"/>
<circle class="k4" cx="137.1" cy="141.3" r="1.72"/>
<circle class="k0" cx="39.0" cy="209.7" r="1.72"/>
<circle class="k1" cx="69.5" cy="208.7" r="1.72"/>
<circle class="k0" cx="34.9" cy="209.5" r="1.72"/>
<circle class="k4" cx="134.2" cy="147.6" r="1.72"/>
<circle class="k1" cx="40.0" cy="208.4" r="1.72"/>
<circle class="k4" cx="146.6" cy="132.7" r="1.72"/>
<circle class="k4" cx="118.0" cy="136.5" r="1.72"/>
<circle class="k4" cx="133.0" cy="126.8" r="1.72"/>
<circle class="k1" cx="36.0" cy="203.2" r="1.72"/>
<circle class="k4" cx="137.1" cy="130.9" r="1.72"/>
<circle class="k4" cx="139.0" cy="119.4" r="1.72"/>
<circle class="k0" cx="37.1" cy="209.3" r="1.72"/>
<circle class="k4" cx="129.2" cy="138.2" r="1.72"/>
<circle class="k3" cx="88.9" cy="148.6" r="1.72"/>
<circle class="k1" cx="34.8" cy="203.6" r="1.72"/>
<circle class="k4" cx="132.4" cy="130.1" r="1.72"/>
<circle class="k4" cx="103.9" cy="144.1" r="1.72"/>
<circle class="k1" cx="49.7" cy="205.5" r="1.72"/>
<circle class="k4" cx="109.8" cy="143.8" r="1.72"/>
<circle class="k1" cx="39.4" cy="209.0" r="1.72"/>
<circle class="k1" cx="34.6" cy="202.4" r="1.72"/>
<circle class="k1" cx="38.5" cy="195.7" r="1.72"/>
<circle class="k4" cx="161.8" cy="131.8" r="1.72"/>
<circle class="k4" cx="112.2" cy="145.0" r="1.72"/>
<circle class="k4" cx="123.5" cy="130.9" r="1.72"/>
<circle class="k4" cx="154.1" cy="124.6" r="1.72"/>
<circle class="k4" cx="130.1" cy="135.3" r="1.72"/>
<circle class="k4" cx="138.6" cy="135.8" r="1.72"/>
<circle class="k4" cx="149.7" cy="132.4" r="1.72"/>
<circle class="k1" cx="38.6" cy="209.0" r="1.72"/>
<circle class="k1" cx="38.4" cy="204.5" r="1.72"/>
<circle class="k1" cx="65.5" cy="209.6" r="1.72"/>
<circle class="k4" cx="117.4" cy="124.2" r="1.72"/>
<circle class="k4" cx="113.5" cy="134.5" r="1.72"/>
<circle class="k0" cx="36.3" cy="208.9" r="1.72"/>
<circle class="k4" cx="152.1" cy="118.6" r="1.72"/>
<circle class="k1" cx="35.5" cy="207.4" r="1.72"/>
<circle class="k1" cx="38.8" cy="207.9" r="1.72"/>
<circle class="k1" cx="41.0" cy="205.2" r="1.72"/>
<circle class="k4" cx="113.0" cy="140.5" r="1.72"/>
<circle class="k1" cx="44.6" cy="210.6" r="1.72"/>
<circle class="k1" cx="42.8" cy="208.0" r="1.72"/>
<circle class="k1" cx="35.1" cy="205.1" r="1.72"/>
<circle class="k4" cx="114.1" cy="135.9" r="1.72"/>
<circle class="k1" cx="43.7" cy="194.6" r="1.72"/>
<circle class="k4" cx="141.1" cy="130.4" r="1.72"/>
<circle class="k4" cx="103.0" cy="139.6" r="1.72"/>
<circle class="k2" cx="72.9" cy="189.9" r="1.72"/>
<circle class="k1" cx="39.3" cy="207.8" r="1.72"/>
<circle class="k4" cx="155.8" cy="120.8" r="1.72"/>
<circle class="k0" cx="37.0" cy="208.4" r="1.72"/>
<circle class="k1" cx="43.8" cy="209.7" r="1.72"/>
<circle class="k0" cx="35.5" cy="209.8" r="1.72"/>
<circle class="k4" cx="132.6" cy="128.3" r="1.72"/>
<circle class="k1" cx="40.2" cy="210.2" r="1.72"/>
<circle class="k4" cx="141.9" cy="146.7" r="1.72"/>
<circle class="k1" cx="40.2" cy="209.4" r="1.72"/>
<circle class="k0" cx="35.3" cy="211.2" r="1.72"/>
<circle class="k4" cx="97.6" cy="138.4" r="1.72"/>
<circle class="k0" cx="35.7" cy="210.5" r="1.72"/>
<circle class="k3" cx="135.2" cy="175.8" r="1.72"/>
<circle class="k4" cx="145.8" cy="128.1" r="1.72"/>
<circle class="k1" cx="39.0" cy="207.0" r="1.72"/>
<circle class="k1" cx="38.7" cy="204.0" r="1.72"/>
<circle class="k2" cx="47.7" cy="165.5" r="1.72"/>
<circle class="k1" cx="38.4" cy="199.2" r="1.72"/>
<circle class="k4" cx="137.4" cy="130.1" r="1.72"/>
<circle class="k1" cx="36.6" cy="206.7" r="1.72"/>
<circle class="k0" cx="34.9" cy="211.1" r="1.72"/>
<circle class="k1" cx="40.7" cy="206.9" r="1.72"/>
<circle class="k0" cx="36.2" cy="210.5" r="1.72"/>
<circle class="k1" cx="52.7" cy="200.4" r="1.72"/>
<circle class="k1" cx="37.2" cy="202.1" r="1.72"/>
<circle class="k1" cx="37.3" cy="200.2" r="1.72"/>
<circle class="k0" cx="39.0" cy="211.1" r="1.72"/>
<circle class="k4" cx="126.7" cy="136.0" r="1.72"/>
<circle class="k4" cx="109.9" cy="139.7" r="1.72"/>
<circle class="k3" cx="95.7" cy="158.0" r="1.72"/>
<circle class="k4" cx="143.9" cy="124.1" r="1.72"/>
<circle class="k2" cx="75.5" cy="173.9" r="1.72"/>
<circle class="k4" cx="129.4" cy="140.9" r="1.72"/>
<circle class="k1" cx="42.0" cy="191.8" r="1.72"/>
<circle class="k1" cx="53.8" cy="210.6" r="1.72"/>
<circle class="k1" cx="41.3" cy="209.4" r="1.72"/>
<circle class="k4" cx="122.5" cy="149.5" r="1.72"/>
<circle class="k1" cx="42.0" cy="208.7" r="1.72"/>
<circle class="k1" cx="39.4" cy="209.1" r="1.72"/>
<circle class="k4" cx="145.8" cy="129.5" r="1.72"/>
<circle class="k4" cx="107.4" cy="138.2" r="1.72"/>
<circle class="k1" cx="34.7" cy="203.0" r="1.72"/>
<circle class="k4" cx="143.7" cy="127.2" r="1.72"/>
<circle class="k4" cx="151.2" cy="131.3" r="1.72"/>
<circle class="k4" cx="104.7" cy="136.4" r="1.72"/>
<circle class="k4" cx="141.7" cy="126.7" r="1.72"/>
<circle class="k0" cx="34.9" cy="209.3" r="1.72"/>
<circle class="k0" cx="36.9" cy="208.9" r="1.72"/>
<circle class="k1" cx="36.9" cy="204.1" r="1.72"/>
<circle class="k4" cx="144.3" cy="129.0" r="1.72"/>
<circle class="k2" cx="56.4" cy="167.4" r="1.72"/>
<circle class="k1" cx="39.3" cy="202.8" r="1.72"/>
<circle class="k1" cx="35.7" cy="204.8" r="1.72"/>
<circle class="k1" cx="58.8" cy="208.7" r="1.72"/>
</g>
<path d="M374.10 5.00V103.60M411.10 5.00V103.60M448.10 5.00V103.60M337.30 76.30H469.90M337.30 48.60H469.90M337.30 20.90H469.90" stroke="#dedede" stroke-width=".8" fill="none"/>
<rect x="337.30" y="5.00" width="132.60" height="98.60" fill="none" stroke="#d6d6d6" stroke-width=".9"/>
<g class="pt">
<g fill="#984ea3">
<circle cx="340.5" cy="56.2" r="1.72"/>
<circle cx="343.8" cy="62.5" r="1.72"/>
<circle cx="410.3" cy="56.9" r="1.72"/>
<circle cx="340.5" cy="73.3" r="1.72"/>
<circle cx="342.5" cy="74.5" r="1.72"/>
<circle cx="345.5" cy="77.0" r="1.72"/>
<circle cx="348.0" cy="79.0" r="1.72"/>
<circle cx="353.8" cy="78.3" r="1.72"/>
<circle cx="411.0" cy="80.8" r="1.72"/>
<circle cx="342.5" cy="83.8" r="1.72"/>
<circle cx="347.5" cy="82.8" r="1.72"/>
<circle cx="358.8" cy="84.5" r="1.72"/>
<circle cx="361.3" cy="85.8" r="1.72"/>
<circle cx="370.6" cy="86.3" r="1.72"/>
<circle cx="379.7" cy="86.3" r="1.72"/>
<circle cx="365.1" cy="88.8" r="1.72"/>
<circle cx="340.0" cy="89.6" r="1.72"/>
<circle cx="350.6" cy="90.1" r="1.72"/>
<circle cx="373.9" cy="90.8" r="1.72"/>
<circle cx="378.9" cy="91.3" r="1.72"/>
<circle cx="387.7" cy="92.6" r="1.72"/>
<circle cx="412.8" cy="95.1" r="1.72"/>
<circle cx="416.5" cy="98.3" r="1.72"/>
<circle cx="342.1" cy="90.8" r="1.72"/>
<circle cx="340.2" cy="94.8" r="1.72"/>
<circle cx="340.8" cy="100.5" r="1.72"/>
<circle cx="358.8" cy="101.4" r="1.72"/>
<circle cx="364.7" cy="95.1" r="1.72"/>
<circle cx="351.3" cy="100.4" r="1.72"/>
<circle cx="346.2" cy="96.3" r="1.72"/>
<circle cx="346.5" cy="101.4" r="1.72"/>
<circle cx="356.4" cy="97.3" r="1.72"/>
<circle cx="348.1" cy="101.5" r="1.72"/>
<circle cx="352.1" cy="99.7" r="1.72"/>
<circle cx="364.3" cy="101.7" r="1.72"/>
<circle cx="343.6" cy="98.1" r="1.72"/>
<circle cx="373.2" cy="99.8" r="1.72"/>
<circle cx="379.5" cy="100.5" r="1.72"/>
<circle cx="345.0" cy="100.1" r="1.72"/>
<circle cx="382.3" cy="98.9" r="1.72"/>
<circle cx="338.9" cy="98.1" r="1.72"/>
<circle cx="338.7" cy="101.5" r="1.72"/>
<circle cx="356.2" cy="102.1" r="1.72"/>
<circle cx="344.3" cy="101.2" r="1.72"/>
<circle cx="347.6" cy="96.2" r="1.72"/>
<circle cx="350.3" cy="99.1" r="1.72"/>
<circle cx="339.5" cy="101.8" r="1.72"/>
<circle cx="360.1" cy="102.0" r="1.72"/>
<circle cx="383.0" cy="93.4" r="1.72"/>
<circle cx="341.3" cy="101.1" r="1.72"/>
<circle cx="363.9" cy="98.1" r="1.72"/>
<circle cx="365.8" cy="100.5" r="1.72"/>
<circle cx="347.8" cy="101.7" r="1.72"/>
<circle cx="371.1" cy="95.6" r="1.72"/>
<circle cx="341.7" cy="99.7" r="1.72"/>
<circle cx="352.5" cy="100.5" r="1.72"/>
<circle cx="345.0" cy="99.0" r="1.72"/>
<circle cx="355.0" cy="98.1" r="1.72"/>
<circle cx="346.1" cy="100.4" r="1.72"/>
<circle cx="398.8" cy="99.9" r="1.72"/>
<circle cx="339.8" cy="101.4" r="1.72"/>
<circle cx="379.5" cy="94.1" r="1.72"/>
<circle cx="393.4" cy="91.7" r="1.72"/>
<circle cx="347.6" cy="90.6" r="1.72"/>
<circle cx="381.1" cy="99.5" r="1.72"/>
<circle cx="376.3" cy="91.6" r="1.72"/>
<circle cx="339.0" cy="97.1" r="1.72"/>
<circle cx="341.6" cy="98.2" r="1.72"/>
<circle cx="343.0" cy="100.9" r="1.72"/>
<circle cx="347.1" cy="96.9" r="1.72"/>
<circle cx="361.4" cy="101.7" r="1.72"/>
<circle cx="340.9" cy="101.8" r="1.72"/>
<circle cx="343.1" cy="97.4" r="1.72"/>
<circle cx="396.1" cy="94.0" r="1.72"/>
<circle cx="345.7" cy="100.7" r="1.72"/>
<circle cx="348.4" cy="99.1" r="1.72"/>
<circle cx="350.8" cy="100.8" r="1.72"/>
<circle cx="351.1" cy="95.7" r="1.72"/>
<circle cx="339.9" cy="95.7" r="1.72"/>
<circle cx="339.2" cy="99.2" r="1.72"/>
<circle cx="345.7" cy="101.9" r="1.72"/>
<circle cx="343.1" cy="99.7" r="1.72"/>
<circle cx="339.6" cy="102.1" r="1.72"/>
<circle cx="347.0" cy="101.9" r="1.72"/>
<circle cx="345.2" cy="100.7" r="1.72"/>
<circle cx="343.3" cy="100.0" r="1.72"/>
<circle cx="338.7" cy="99.9" r="1.72"/>
<circle cx="356.9" cy="92.7" r="1.72"/>
<circle cx="361.1" cy="101.6" r="1.72"/>
<circle cx="365.1" cy="99.4" r="1.72"/>
<circle cx="363.4" cy="100.8" r="1.72"/>
<circle cx="338.5" cy="98.1" r="1.72"/>
<circle cx="380.8" cy="99.7" r="1.72"/>
<circle cx="358.8" cy="95.6" r="1.72"/>
<circle cx="347.6" cy="99.3" r="1.72"/>
<circle cx="339.5" cy="97.7" r="1.72"/>
<circle cx="400.3" cy="100.1" r="1.72"/>
<circle cx="347.9" cy="95.8" r="1.72"/>
<circle cx="351.6" cy="101.5" r="1.72"/>
<circle cx="341.6" cy="100.1" r="1.72"/>
<circle cx="372.8" cy="91.7" r="1.72"/>
<circle cx="352.1" cy="98.8" r="1.72"/>
<circle cx="348.1" cy="100.8" r="1.72"/>
<circle cx="358.6" cy="101.7" r="1.72"/>
<circle cx="354.6" cy="99.3" r="1.72"/>
<circle cx="381.2" cy="98.1" r="1.72"/>
<circle cx="344.0" cy="101.3" r="1.72"/>
<circle cx="350.6" cy="100.6" r="1.72"/>
<circle cx="344.2" cy="91.0" r="1.72"/>
<circle cx="347.4" cy="100.8" r="1.72"/>
<circle cx="339.8" cy="101.3" r="1.72"/>
<circle cx="341.6" cy="96.8" r="1.72"/>
<circle cx="371.4" cy="95.5" r="1.72"/>
<circle cx="340.1" cy="89.5" r="1.72"/>
<circle cx="340.1" cy="99.6" r="1.72"/>
<circle cx="341.7" cy="101.9" r="1.72"/>
<circle cx="344.2" cy="101.5" r="1.72"/>
<circle cx="356.7" cy="101.5" r="1.72"/>
<circle cx="343.0" cy="101.4" r="1.72"/>
<circle cx="343.4" cy="94.1" r="1.72"/>
<circle cx="344.3" cy="99.1" r="1.72"/>
<circle cx="345.3" cy="100.2" r="1.72"/>
<circle cx="391.0" cy="101.6" r="1.72"/>
<circle cx="339.2" cy="100.4" r="1.72"/>
<circle cx="374.7" cy="101.3" r="1.72"/>
<circle cx="340.6" cy="90.4" r="1.72"/>
<circle cx="349.7" cy="100.7" r="1.72"/>
<circle cx="340.5" cy="96.8" r="1.72"/>
<circle cx="363.5" cy="99.7" r="1.72"/>
<circle cx="347.8" cy="99.2" r="1.72"/>
<circle cx="360.8" cy="98.6" r="1.72"/>
<circle cx="380.4" cy="101.3" r="1.72"/>
<circle cx="387.7" cy="101.4" r="1.72"/>
<circle cx="339.7" cy="101.9" r="1.72"/>
<circle cx="391.9" cy="94.1" r="1.72"/>
<circle cx="338.5" cy="94.2" r="1.72"/>
<circle cx="366.6" cy="97.6" r="1.72"/>
<circle cx="350.2" cy="101.7" r="1.72"/>
<circle cx="347.8" cy="101.5" r="1.72"/>
<circle cx="346.9" cy="99.4" r="1.72"/>
<circle cx="346.9" cy="100.4" r="1.72"/>
<circle cx="351.8" cy="91.4" r="1.72"/>
<circle cx="372.9" cy="100.8" r="1.72"/>
<circle cx="390.9" cy="101.6" r="1.72"/>
<circle cx="349.9" cy="100.5" r="1.72"/>
<circle cx="354.0" cy="88.9" r="1.72"/>
<circle cx="348.0" cy="99.2" r="1.72"/>
<circle cx="374.0" cy="99.2" r="1.72"/>
<circle cx="349.1" cy="101.8" r="1.72"/>
<circle cx="350.8" cy="96.3" r="1.72"/>
<circle cx="343.6" cy="100.2" r="1.72"/>
<circle cx="391.6" cy="101.2" r="1.72"/>
<circle cx="351.0" cy="99.9" r="1.72"/>
<circle cx="372.0" cy="100.4" r="1.72"/>
<circle cx="341.5" cy="100.1" r="1.72"/>
<circle cx="349.3" cy="94.0" r="1.72"/>
<circle cx="345.6" cy="101.2" r="1.72"/>
<circle cx="349.0" cy="101.5" r="1.72"/>
<circle cx="340.4" cy="100.8" r="1.72"/>
<circle cx="341.7" cy="92.3" r="1.72"/>
<circle cx="350.0" cy="95.3" r="1.72"/>
<circle cx="373.5" cy="99.9" r="1.72"/>
<circle cx="352.8" cy="93.9" r="1.72"/>
<circle cx="348.0" cy="93.5" r="1.72"/>
<circle cx="339.6" cy="95.4" r="1.72"/>
<circle cx="345.1" cy="102.0" r="1.72"/>
<circle cx="344.6" cy="95.2" r="1.72"/>
<circle cx="340.1" cy="100.2" r="1.72"/>
<circle cx="347.7" cy="98.3" r="1.72"/>
<circle cx="355.1" cy="101.7" r="1.72"/>
<circle cx="394.0" cy="101.8" r="1.72"/>
<circle cx="338.5" cy="99.6" r="1.72"/>
<circle cx="351.1" cy="95.3" r="1.72"/>
<circle cx="347.6" cy="98.7" r="1.72"/>
<circle cx="375.6" cy="100.2" r="1.72"/>
<circle cx="342.3" cy="102.0" r="1.72"/>
<circle cx="378.0" cy="98.8" r="1.72"/>
<circle cx="339.8" cy="99.7" r="1.72"/>
<circle cx="370.7" cy="100.8" r="1.72"/>
<circle cx="393.8" cy="99.2" r="1.72"/>
<circle cx="340.2" cy="93.2" r="1.72"/>
<circle cx="341.7" cy="98.4" r="1.72"/>
<circle cx="350.2" cy="92.8" r="1.72"/>
<circle cx="372.2" cy="101.2" r="1.72"/>
<circle cx="341.1" cy="100.7" r="1.72"/>
<circle cx="343.7" cy="101.2" r="1.72"/>
<circle cx="366.2" cy="101.6" r="1.72"/>
<circle cx="377.0" cy="101.2" r="1.72"/>
<circle cx="338.7" cy="99.4" r="1.72"/>
<circle cx="350.8" cy="95.2" r="1.72"/>
<circle cx="340.9" cy="100.2" r="1.72"/>
<circle cx="340.0" cy="100.9" r="1.72"/>
<circle cx="354.4" cy="101.7" r="1.72"/>
<circle cx="341.1" cy="98.9" r="1.72"/>
<circle cx="342.7" cy="101.2" r="1.72"/>
<circle cx="356.4" cy="101.4" r="1.72"/>
<circle cx="362.2" cy="99.1" r="1.72"/>
<circle cx="349.1" cy="99.9" r="1.72"/>
<circle cx="343.2" cy="94.5" r="1.72"/>
<circle cx="348.8" cy="100.9" r="1.72"/>
<circle cx="379.2" cy="101.1" r="1.72"/>
<circle cx="366.6" cy="100.5" r="1.72"/>
<circle cx="399.9" cy="101.4" r="1.72"/>
<circle cx="354.4" cy="97.0" r="1.72"/>
<circle cx="345.3" cy="99.2" r="1.72"/>
<circle cx="370.2" cy="99.1" r="1.72"/>
<circle cx="370.0" cy="99.5" r="1.72"/>
<circle cx="350.6" cy="101.2" r="1.72"/>
<circle cx="343.1" cy="99.0" r="1.72"/>
<circle cx="343.8" cy="93.7" r="1.72"/>
<circle cx="351.8" cy="95.1" r="1.72"/>
<circle cx="361.5" cy="102.1" r="1.72"/>
<circle cx="357.3" cy="100.4" r="1.72"/>
<circle cx="348.7" cy="101.0" r="1.72"/>
<circle cx="356.1" cy="100.2" r="1.72"/>
<circle cx="341.8" cy="100.6" r="1.72"/>
<circle cx="353.2" cy="100.2" r="1.72"/>
<circle cx="340.9" cy="98.8" r="1.72"/>
<circle cx="338.8" cy="99.6" r="1.72"/>
<circle cx="341.5" cy="101.4" r="1.72"/>
<circle cx="341.7" cy="92.2" r="1.72"/>
<circle cx="370.5" cy="100.2" r="1.72"/>
<circle cx="340.1" cy="100.7" r="1.72"/>
<circle cx="375.0" cy="90.7" r="1.72"/>
<circle cx="347.7" cy="100.9" r="1.72"/>
<circle cx="382.9" cy="98.8" r="1.72"/>
<circle cx="346.0" cy="101.1" r="1.72"/>
<circle cx="394.8" cy="97.0" r="1.72"/>
<circle cx="374.8" cy="97.4" r="1.72"/>
<circle cx="361.0" cy="99.7" r="1.72"/>
<circle cx="391.3" cy="96.5" r="1.72"/>
<circle cx="342.5" cy="100.9" r="1.72"/>
<circle cx="347.3" cy="94.2" r="1.72"/>
<circle cx="363.0" cy="97.6" r="1.72"/>
<circle cx="350.5" cy="101.0" r="1.72"/>
<circle cx="348.8" cy="100.2" r="1.72"/>
<circle cx="339.5" cy="98.1" r="1.72"/>
<circle cx="343.0" cy="99.4" r="1.72"/>
</g>
<g fill="#ff7f00">
<circle cx="420.8" cy="8.0" r="1.72"/>
<circle cx="437.4" cy="7.3" r="1.72"/>
<circle cx="452.9" cy="6.0" r="1.72"/>
<circle cx="468.0" cy="6.8" r="1.72"/>
<circle cx="430.3" cy="11.8" r="1.72"/>
<circle cx="441.6" cy="11.8" r="1.72"/>
<circle cx="452.2" cy="13.0" r="1.72"/>
<circle cx="459.2" cy="14.3" r="1.72"/>
<circle cx="465.0" cy="11.8" r="1.72"/>
<circle cx="355.1" cy="23.1" r="1.72"/>
<circle cx="382.2" cy="18.1" r="1.72"/>
<circle cx="390.7" cy="20.6" r="1.72"/>
<circle cx="402.7" cy="18.8" r="1.72"/>
<circle cx="408.3" cy="20.1" r="1.72"/>
<circle cx="414.0" cy="18.8" r="1.72"/>
<circle cx="425.3" cy="20.1" r="1.72"/>
<circle cx="437.9" cy="20.1" r="1.72"/>
<circle cx="445.4" cy="18.1" r="1.72"/>
<circle cx="450.4" cy="19.3" r="1.72"/>
<circle cx="455.4" cy="20.6" r="1.72"/>
<circle cx="460.5" cy="18.1" r="1.72"/>
<circle cx="468.0" cy="18.1" r="1.72"/>
<circle cx="374.6" cy="27.6" r="1.72"/>
<circle cx="379.7" cy="28.6" r="1.72"/>
<circle cx="387.2" cy="26.8" r="1.72"/>
<circle cx="375.1" cy="31.9" r="1.72"/>
<circle cx="407.8" cy="24.3" r="1.72"/>
<circle cx="419.1" cy="24.3" r="1.72"/>
<circle cx="434.1" cy="24.3" r="1.72"/>
<circle cx="435.4" cy="28.1" r="1.72"/>
<circle cx="442.9" cy="25.6" r="1.72"/>
<circle cx="449.2" cy="24.3" r="1.72"/>
<circle cx="454.2" cy="26.8" r="1.72"/>
<circle cx="459.2" cy="25.6" r="1.72"/>
<circle cx="408.3" cy="29.3" r="1.72"/>
<circle cx="415.3" cy="31.9" r="1.72"/>
<circle cx="425.8" cy="31.9" r="1.72"/>
<circle cx="437.9" cy="31.9" r="1.72"/>
<circle cx="443.4" cy="29.3" r="1.72"/>
<circle cx="450.4" cy="30.6" r="1.72"/>
<circle cx="457.9" cy="31.9" r="1.72"/>
<circle cx="387.7" cy="36.4" r="1.72"/>
<circle cx="395.2" cy="35.1" r="1.72"/>
<circle cx="417.8" cy="35.6" r="1.72"/>
<circle cx="421.6" cy="36.9" r="1.72"/>
<circle cx="437.9" cy="35.1" r="1.72"/>
<circle cx="441.6" cy="36.9" r="1.72"/>
<circle cx="449.2" cy="35.6" r="1.72"/>
<circle cx="456.7" cy="36.9" r="1.72"/>
<circle cx="465.0" cy="38.1" r="1.72"/>
<circle cx="392.7" cy="40.6" r="1.72"/>
<circle cx="399.7" cy="38.6" r="1.72"/>
<circle cx="404.0" cy="39.4" r="1.72"/>
<circle cx="418.3" cy="40.1" r="1.72"/>
<circle cx="425.3" cy="39.4" r="1.72"/>
<circle cx="435.4" cy="40.6" r="1.72"/>
<circle cx="442.9" cy="40.6" r="1.72"/>
<circle cx="446.7" cy="41.9" r="1.72"/>
<circle cx="452.9" cy="41.9" r="1.72"/>
<circle cx="375.1" cy="44.4" r="1.72"/>
<circle cx="368.1" cy="48.2" r="1.72"/>
<circle cx="394.0" cy="48.9" r="1.72"/>
<circle cx="409.0" cy="49.4" r="1.72"/>
<circle cx="424.1" cy="45.7" r="1.72"/>
<circle cx="427.8" cy="48.2" r="1.72"/>
<circle cx="439.1" cy="46.9" r="1.72"/>
<circle cx="444.1" cy="48.2" r="1.72"/>
<circle cx="450.9" cy="49.4" r="1.72"/>
<circle cx="338.0" cy="53.9" r="1.72"/>
<circle cx="362.1" cy="53.2" r="1.72"/>
<circle cx="404.0" cy="52.7" r="1.72"/>
<circle cx="410.3" cy="51.9" r="1.72"/>
<circle cx="421.6" cy="51.9" r="1.72"/>
<circle cx="445.4" cy="52.7" r="1.72"/>
<circle cx="358.8" cy="58.2" r="1.72"/>
<circle cx="368.9" cy="56.9" r="1.72"/>
<circle cx="381.4" cy="58.7" r="1.72"/>
<circle cx="385.2" cy="58.7" r="1.72"/>
<circle cx="401.5" cy="58.7" r="1.72"/>
<circle cx="406.5" cy="56.2" r="1.72"/>
<circle cx="415.3" cy="56.9" r="1.72"/>
<circle cx="420.8" cy="56.2" r="1.72"/>
<circle cx="434.1" cy="56.9" r="1.72"/>
<circle cx="353.1" cy="60.7" r="1.72"/>
<circle cx="407.8" cy="61.2" r="1.72"/>
<circle cx="414.0" cy="62.0" r="1.72"/>
<circle cx="421.6" cy="59.5" r="1.72"/>
<circle cx="427.8" cy="62.7" r="1.72"/>
<circle cx="444.9" cy="60.2" r="1.72"/>
<circle cx="450.9" cy="62.0" r="1.72"/>
<circle cx="350.6" cy="67.0" r="1.72"/>
<circle cx="394.0" cy="67.0" r="1.72"/>
<circle cx="397.7" cy="65.7" r="1.72"/>
<circle cx="425.3" cy="65.2" r="1.72"/>
<circle cx="436.6" cy="65.7" r="1.72"/>
<circle cx="389.7" cy="70.7" r="1.72"/>
<circle cx="409.8" cy="71.2" r="1.72"/>
<circle cx="432.4" cy="68.7" r="1.72"/>
<circle cx="351.3" cy="77.0" r="1.72"/>
<circle cx="357.1" cy="78.3" r="1.72"/>
<circle cx="371.4" cy="75.8" r="1.72"/>
<circle cx="422.3" cy="75.8" r="1.72"/>
<circle cx="456.7" cy="76.3" r="1.72"/>
<circle cx="402.7" cy="80.3" r="1.72"/>
<circle cx="423.3" cy="86.3" r="1.72"/>
<circle cx="447.9" cy="87.6" r="1.72"/>
<circle cx="394.0" cy="88.3" r="1.72"/>
<circle cx="391.5" cy="90.8" r="1.72"/>
<circle cx="407.8" cy="90.3" r="1.72"/>
<circle cx="376.4" cy="102.1" r="1.72"/>
<circle cx="464.3" cy="21.6" r="1.72"/>
<circle cx="452.5" cy="24.9" r="1.72"/>
<circle cx="460.6" cy="18.5" r="1.72"/>
<circle cx="452.9" cy="30.1" r="1.72"/>
<circle cx="454.3" cy="18.5" r="1.72"/>
<circle cx="462.9" cy="20.4" r="1.72"/>
<circle cx="443.6" cy="21.6" r="1.72"/>
<circle cx="457.7" cy="16.2" r="1.72"/>
<circle cx="449.3" cy="26.3" r="1.72"/>
<circle cx="455.0" cy="18.8" r="1.72"/>
<circle cx="444.6" cy="28.1" r="1.72"/>
<circle cx="453.7" cy="20.5" r="1.72"/>
<circle cx="462.3" cy="16.1" r="1.72"/>
<circle cx="448.2" cy="18.8" r="1.72"/>
<circle cx="461.4" cy="20.0" r="1.72"/>
<circle cx="452.5" cy="14.7" r="1.72"/>
<circle cx="458.1" cy="20.2" r="1.72"/>
<circle cx="452.1" cy="23.4" r="1.72"/>
<circle cx="460.3" cy="18.9" r="1.72"/>
<circle cx="445.9" cy="12.4" r="1.72"/>
<circle cx="461.8" cy="15.3" r="1.72"/>
<circle cx="445.1" cy="17.3" r="1.72"/>
<circle cx="445.0" cy="20.0" r="1.72"/>
<circle cx="451.3" cy="18.6" r="1.72"/>
<circle cx="443.1" cy="20.2" r="1.72"/>
<circle cx="450.9" cy="18.8" r="1.72"/>
<circle cx="451.0" cy="20.3" r="1.72"/>
<circle cx="450.2" cy="16.5" r="1.72"/>
<circle cx="445.6" cy="23.5" r="1.72"/>
<circle cx="452.9" cy="20.1" r="1.72"/>
<circle cx="458.6" cy="19.5" r="1.72"/>
<circle cx="455.8" cy="15.6" r="1.72"/>
<circle cx="452.3" cy="14.2" r="1.72"/>
<circle cx="446.3" cy="25.5" r="1.72"/>
<circle cx="452.6" cy="25.9" r="1.72"/>
<circle cx="448.7" cy="20.0" r="1.72"/>
<circle cx="463.0" cy="16.7" r="1.72"/>
<circle cx="450.6" cy="21.3" r="1.72"/>
<circle cx="455.8" cy="40.0" r="1.72"/>
<circle cx="437.0" cy="43.9" r="1.72"/>
<circle cx="448.9" cy="31.0" r="1.72"/>
<circle cx="449.3" cy="36.8" r="1.72"/>
<circle cx="433.4" cy="39.1" r="1.72"/>
<circle cx="443.1" cy="37.2" r="1.72"/>
<circle cx="443.5" cy="37.5" r="1.72"/>
<circle cx="439.4" cy="52.0" r="1.72"/>
<circle cx="446.9" cy="38.4" r="1.72"/>
<circle cx="440.7" cy="43.4" r="1.72"/>
<circle cx="436.4" cy="37.7" r="1.72"/>
<circle cx="442.7" cy="34.2" r="1.72"/>
<circle cx="441.5" cy="40.1" r="1.72"/>
<circle cx="447.2" cy="37.6" r="1.72"/>
<circle cx="450.5" cy="37.6" r="1.72"/>
<circle cx="458.2" cy="29.6" r="1.72"/>
<circle cx="428.2" cy="42.3" r="1.72"/>
<circle cx="430.8" cy="40.1" r="1.72"/>
<circle cx="456.9" cy="30.4" r="1.72"/>
<circle cx="419.9" cy="42.6" r="1.72"/>
<circle cx="448.0" cy="36.9" r="1.72"/>
<circle cx="434.6" cy="53.4" r="1.72"/>
<circle cx="431.0" cy="34.3" r="1.72"/>
<circle cx="435.5" cy="41.5" r="1.72"/>
<circle cx="431.7" cy="37.4" r="1.72"/>
<circle cx="452.5" cy="35.2" r="1.72"/>
<circle cx="443.8" cy="43.0" r="1.72"/>
<circle cx="437.1" cy="37.7" r="1.72"/>
</g>
</g>
<path d="M69.80 222.30V320.90M106.80 222.30V320.90M143.80 222.30V320.90M33.00 293.60H165.60M33.00 265.90H165.60M33.00 238.20H165.60" stroke="#dedede" stroke-width=".8" fill="none"/>
<rect x="33.00" y="222.30" width="132.60" height="98.60" fill="none" stroke="#d6d6d6" stroke-width=".9"/>
<g class="pt">
<circle class="k1" cx="50.6" cy="293.0" r="1.72"/>
<circle class="k1" cx="38.9" cy="320.1" r="1.72"/>
<circle class="k4" cx="137.5" cy="229.9" r="1.72"/>
<circle class="k1" cx="44.4" cy="311.7" r="1.72"/>
<circle class="k1" cx="40.0" cy="303.6" r="1.72"/>
<circle class="k4" cx="140.4" cy="235.2" r="1.72"/>
<circle class="k1" cx="39.3" cy="302.5" r="1.72"/>
<circle class="k2" cx="50.9" cy="318.7" r="1.72"/>
<circle class="k2" cx="63.8" cy="266.0" r="1.72"/>
<circle class="k4" cx="101.4" cy="240.2" r="1.72"/>
<circle class="k3" cx="112.4" cy="292.8" r="1.72"/>
<circle class="k1" cx="41.3" cy="299.2" r="1.72"/>
<circle class="k1" cx="43.8" cy="310.8" r="1.72"/>
<circle class="k2" cx="50.4" cy="280.6" r="1.72"/>
<circle class="k0" cx="35.4" cy="303.1" r="1.72"/>
<circle class="k1" cx="44.7" cy="264.6" r="1.72"/>
<circle class="k1" cx="39.7" cy="290.7" r="1.72"/>
<circle class="k1" cx="44.3" cy="319.4" r="1.72"/>
<circle class="k2" cx="52.1" cy="319.1" r="1.72"/>
<circle class="k1" cx="44.1" cy="295.6" r="1.72"/>
<circle class="k3" cx="96.7" cy="318.7" r="1.72"/>
<circle class="k1" cx="36.9" cy="311.3" r="1.72"/>
<circle class="k1" cx="43.2" cy="313.4" r="1.72"/>
<circle class="k1" cx="37.6" cy="314.0" r="1.72"/>
<circle class="k4" cx="121.4" cy="247.0" r="1.72"/>
<circle class="k1" cx="39.8" cy="318.4" r="1.72"/>
<circle class="k4" cx="134.2" cy="247.7" r="1.72"/>
<circle class="k1" cx="49.4" cy="292.0" r="1.72"/>
<circle class="k1" cx="37.0" cy="318.8" r="1.72"/>
<circle class="k2" cx="72.2" cy="317.2" r="1.72"/>
<circle class="k1" cx="42.8" cy="280.7" r="1.72"/>
<circle class="k0" cx="35.8" cy="300.9" r="1.72"/>
<circle class="k1" cx="44.1" cy="295.8" r="1.72"/>
<circle class="k1" cx="38.2" cy="320.1" r="1.72"/>
<circle class="k1" cx="45.1" cy="319.0" r="1.72"/>
<circle class="k4" cx="133.5" cy="289.4" r="1.72"/>
<circle class="k4" cx="146.6" cy="233.0" r="1.72"/>
<circle class="k1" cx="47.9" cy="306.5" r="1.72"/>
<circle class="k1" cx="43.8" cy="319.2" r="1.72"/>
<circle class="k1" cx="38.7" cy="319.1" r="1.72"/>
<circle class="k4" cx="139.2" cy="237.4" r="1.72"/>
<circle class="k4" cx="139.2" cy="268.4" r="1.72"/>
<circle class="k1" cx="39.2" cy="313.1" r="1.72"/>
<circle class="k1" cx="36.6" cy="317.1" r="1.72"/>
<circle class="k4" cx="146.9" cy="235.8" r="1.72"/>
<circle class="k1" cx="37.9" cy="309.3" r="1.72"/>
<circle class="k0" cx="36.1" cy="312.4" r="1.72"/>
<circle class="k4" cx="126.0" cy="242.3" r="1.72"/>
<circle class="k1" cx="46.5" cy="316.2" r="1.72"/>
<circle class="k1" cx="37.0" cy="301.6" r="1.72"/>
<circle class="k4" cx="115.8" cy="239.3" r="1.72"/>
<circle class="k4" cx="130.8" cy="236.5" r="1.72"/>
<circle class="k0" cx="35.4" cy="319.5" r="1.72"/>
<circle class="k4" cx="144.2" cy="281.2" r="1.72"/>
<circle class="k4" cx="122.5" cy="231.8" r="1.72"/>
<circle class="k3" cx="94.0" cy="305.0" r="1.72"/>
<circle class="k1" cx="37.8" cy="316.4" r="1.72"/>
<circle class="k3" cx="82.2" cy="311.2" r="1.72"/>
<circle class="k4" cx="123.1" cy="283.4" r="1.72"/>
<circle class="k1" cx="41.6" cy="293.1" r="1.72"/>
<circle class="k2" cx="64.5" cy="272.2" r="1.72"/>
<circle class="k0" cx="35.7" cy="319.5" r="1.72"/>
<circle class="k0" cx="35.4" cy="307.0" r="1.72"/>
<circle class="k0" cx="36.4" cy="293.2" r="1.72"/>
<circle class="k0" cx="37.7" cy="310.6" r="1.72"/>
<circle class="k4" cx="132.5" cy="241.7" r="1.72"/>
<circle class="k1" cx="44.7" cy="310.3" r="1.72"/>
<circle class="k3" cx="84.6" cy="255.2" r="1.72"/>
<circle class="k4" cx="122.5" cy="243.0" r="1.72"/>
<circle class="k1" cx="39.7" cy="287.0" r="1.72"/>
<circle class="k4" cx="129.2" cy="254.9" r="1.72"/>
<circle class="k3" cx="88.9" cy="263.7" r="1.72"/>
<circle class="k1" cx="38.6" cy="319.2" r="1.72"/>
<circle class="k1" cx="35.6" cy="317.8" r="1.72"/>
<circle class="k3" cx="88.3" cy="316.3" r="1.72"/>
<circle class="k1" cx="38.0" cy="315.4" r="1.72"/>
<circle class="k1" cx="38.1" cy="316.7" r="1.72"/>
<circle class="k1" cx="37.9" cy="318.5" r="1.72"/>
<circle class="k4" cx="124.1" cy="260.9" r="1.72"/>
<circle class="k0" cx="38.5" cy="303.4" r="1.72"/>
<circle class="k4" cx="115.3" cy="253.1" r="1.72"/>
<circle class="k1" cx="39.0" cy="300.3" r="1.72"/>
<circle class="k4" cx="117.4" cy="242.1" r="1.72"/>
<circle class="k1" cx="37.1" cy="294.5" r="1.72"/>
<circle class="k3" cx="107.4" cy="241.2" r="1.72"/>
<circle class="k3" cx="93.3" cy="285.3" r="1.72"/>
<circle class="k1" cx="36.0" cy="299.5" r="1.72"/>
<circle class="k1" cx="38.3" cy="294.1" r="1.72"/>
<circle class="k0" cx="38.7" cy="320.3" r="1.72"/>
<circle class="k4" cx="137.7" cy="239.6" r="1.72"/>
<circle class="k4" cx="119.1" cy="255.2" r="1.72"/>
<circle class="k4" cx="129.2" cy="262.8" r="1.72"/>
<circle class="k4" cx="140.9" cy="307.8" r="1.72"/>
<circle class="k1" cx="37.4" cy="289.5" r="1.72"/>
<circle class="k3" cx="83.9" cy="246.8" r="1.72"/>
<circle class="k1" cx="37.1" cy="311.0" r="1.72"/>
<circle class="k1" cx="35.6" cy="313.9" r="1.72"/>
<circle class="k1" cx="36.8" cy="312.6" r="1.72"/>
<circle class="k0" cx="35.4" cy="304.1" r="1.72"/>
<circle class="k4" cx="140.3" cy="240.1" r="1.72"/>
<circle class="k4" cx="142.9" cy="241.5" r="1.72"/>
<circle class="k1" cx="38.6" cy="310.1" r="1.72"/>
<circle class="k4" cx="135.9" cy="233.6" r="1.72"/>
<circle class="k4" cx="145.6" cy="230.3" r="1.72"/>
<circle class="k1" cx="36.3" cy="306.8" r="1.72"/>
<circle class="k1" cx="44.7" cy="300.6" r="1.72"/>
<circle class="k0" cx="35.8" cy="311.5" r="1.72"/>
<circle class="k0" cx="36.2" cy="310.4" r="1.72"/>
<circle class="k0" cx="36.1" cy="306.6" r="1.72"/>
<circle class="k1" cx="46.1" cy="312.1" r="1.72"/>
<circle class="k4" cx="105.7" cy="236.1" r="1.72"/>
<circle class="k0" cx="35.9" cy="305.2" r="1.72"/>
<circle class="k1" cx="42.1" cy="308.3" r="1.72"/>
<circle class="k4" cx="139.2" cy="259.9" r="1.72"/>
<circle class="k4" cx="137.1" cy="234.8" r="1.72"/>
<circle class="k2" cx="67.2" cy="306.3" r="1.72"/>
<circle class="k1" cx="42.4" cy="317.9" r="1.72"/>
<circle class="k3" cx="88.9" cy="236.1" r="1.72"/>
<circle class="k1" cx="51.4" cy="311.2" r="1.72"/>
<circle class="k1" cx="42.5" cy="318.7" r="1.72"/>
<circle class="k1" cx="53.0" cy="308.7" r="1.72"/>
<circle class="k4" cx="147.0" cy="233.6" r="1.72"/>
<circle class="k4" cx="146.6" cy="263.7" r="1.72"/>
<circle class="k4" cx="105.7" cy="267.5" r="1.72"/>
<circle class="k4" cx="125.9" cy="251.0" r="1.72"/>
<circle class="k4" cx="156.0" cy="243.0" r="1.72"/>
<circle class="k1" cx="39.2" cy="293.7" r="1.72"/>
<circle class="k1" cx="41.3" cy="319.5" r="1.72"/>
<circle class="k0" cx="36.3" cy="319.3" r="1.72"/>
<circle class="k0" cx="36.2" cy="320.1" r="1.72"/>
<circle class="k1" cx="40.4" cy="261.8" r="1.72"/>
<circle class="k1" cx="39.2" cy="315.2" r="1.72"/>
<circle class="k4" cx="119.1" cy="271.2" r="1.72"/>
<circle class="k1" cx="39.5" cy="315.4" r="1.72"/>
<circle class="k1" cx="36.3" cy="305.1" r="1.72"/>
<circle class="k4" cx="113.7" cy="243.7" r="1.72"/>
<circle class="k1" cx="36.9" cy="313.4" r="1.72"/>
<circle class="k2" cx="50.2" cy="316.0" r="1.72"/>
<circle class="k1" cx="42.0" cy="319.9" r="1.72"/>
<circle class="k0" cx="36.6" cy="280.5" r="1.72"/>
<circle class="k3" cx="95.7" cy="266.5" r="1.72"/>
<circle class="k1" cx="53.1" cy="300.3" r="1.72"/>
<circle class="k4" cx="144.9" cy="268.0" r="1.72"/>
<circle class="k4" cx="137.5" cy="242.1" r="1.72"/>
<circle class="k4" cx="144.9" cy="255.2" r="1.72"/>
<circle class="k1" cx="50.6" cy="313.4" r="1.72"/>
<circle class="k1" cx="44.6" cy="315.7" r="1.72"/>
<circle class="k4" cx="122.5" cy="238.3" r="1.72"/>
<circle class="k0" cx="35.7" cy="318.4" r="1.72"/>
<circle class="k3" cx="83.9" cy="275.9" r="1.72"/>
<circle class="k4" cx="152.1" cy="234.9" r="1.72"/>
<circle class="k1" cx="36.9" cy="317.3" r="1.72"/>
<circle class="k0" cx="35.9" cy="303.1" r="1.72"/>
<circle class="k1" cx="39.2" cy="278.9" r="1.72"/>
<circle class="k1" cx="39.3" cy="313.3" r="1.72"/>
<circle class="k1" cx="39.0" cy="316.9" r="1.72"/>
<circle class="k4" cx="139.2" cy="248.7" r="1.72"/>
<circle class="k0" cx="36.5" cy="291.4" r="1.72"/>
<circle class="k1" cx="41.3" cy="301.9" r="1.72"/>
<circle class="k4" cx="149.7" cy="236.6" r="1.72"/>
<circle class="k0" cx="36.2" cy="313.1" r="1.72"/>
<circle class="k1" cx="37.3" cy="314.9" r="1.72"/>
<circle class="k1" cx="39.8" cy="313.4" r="1.72"/>
<circle class="k1" cx="37.1" cy="296.2" r="1.72"/>
<circle class="k1" cx="37.8" cy="307.1" r="1.72"/>
<circle class="k4" cx="156.0" cy="251.5" r="1.72"/>
<circle class="k0" cx="35.3" cy="291.9" r="1.72"/>
<circle class="k2" cx="46.8" cy="313.1" r="1.72"/>
<circle class="k4" cx="121.8" cy="250.5" r="1.72"/>
<circle class="k4" cx="161.0" cy="258.6" r="1.72"/>
<circle class="k4" cx="124.1" cy="237.4" r="1.72"/>
<circle class="k0" cx="37.5" cy="299.2" r="1.72"/>
<circle class="k1" cx="35.8" cy="278.7" r="1.72"/>
<circle class="k1" cx="40.6" cy="316.5" r="1.72"/>
<circle class="k1" cx="52.1" cy="319.0" r="1.72"/>
<circle class="k4" cx="136.6" cy="237.3" r="1.72"/>
<circle class="k4" cx="144.4" cy="234.0" r="1.72"/>
<circle class="k4" cx="147.6" cy="223.3" r="1.72"/>
<circle class="k1" cx="37.9" cy="312.5" r="1.72"/>
<circle class="k1" cx="40.7" cy="320.2" r="1.72"/>
<circle class="k3" cx="82.2" cy="278.7" r="1.72"/>
<circle class="k0" cx="35.9" cy="313.3" r="1.72"/>
<circle class="k0" cx="36.3" cy="314.3" r="1.72"/>
<circle class="k1" cx="36.1" cy="316.0" r="1.72"/>
<circle class="k0" cx="36.4" cy="316.1" r="1.72"/>
<circle class="k1" cx="48.5" cy="317.9" r="1.72"/>
<circle class="k2" cx="70.5" cy="295.6" r="1.72"/>
<circle class="k1" cx="43.1" cy="314.5" r="1.72"/>
<circle class="k1" cx="47.2" cy="318.9" r="1.72"/>
<circle class="k4" cx="110.7" cy="256.2" r="1.72"/>
<circle class="k4" cx="131.1" cy="231.6" r="1.72"/>
<circle class="k4" cx="109.1" cy="244.9" r="1.72"/>
<circle class="k1" cx="46.1" cy="316.6" r="1.72"/>
<circle class="k4" cx="118.1" cy="243.2" r="1.72"/>
<circle class="k4" cx="117.4" cy="279.7" r="1.72"/>
<circle class="k0" cx="35.6" cy="319.4" r="1.72"/>
<circle class="k4" cx="124.8" cy="277.8" r="1.72"/>
<circle class="k4" cx="101.4" cy="271.2" r="1.72"/>
<circle class="k4" cx="118.2" cy="251.1" r="1.72"/>
<circle class="k4" cx="121.4" cy="236.4" r="1.72"/>
<circle class="k4" cx="124.7" cy="234.9" r="1.72"/>
<circle class="k2" cx="68.8" cy="310.7" r="1.72"/>
<circle class="k4" cx="152.6" cy="229.9" r="1.72"/>
<circle class="k1" cx="40.7" cy="307.9" r="1.72"/>
<circle class="k1" cx="50.4" cy="293.8" r="1.72"/>
<circle class="k4" cx="145.9" cy="236.5" r="1.72"/>
<circle class="k1" cx="36.6" cy="316.3" r="1.72"/>
<circle class="k1" cx="35.7" cy="312.3" r="1.72"/>
<circle class="k4" cx="144.9" cy="234.6" r="1.72"/>
<circle class="k1" cx="39.7" cy="310.1" r="1.72"/>
<circle class="k1" cx="36.6" cy="314.7" r="1.72"/>
<circle class="k4" cx="144.8" cy="230.7" r="1.72"/>
<circle class="k2" cx="56.4" cy="296.2" r="1.72"/>
<circle class="k3" cx="77.2" cy="281.9" r="1.72"/>
<circle class="k4" cx="149.3" cy="227.0" r="1.72"/>
<circle class="k1" cx="39.6" cy="318.3" r="1.72"/>
<circle class="k4" cx="146.5" cy="229.1" r="1.72"/>
<circle class="k1" cx="40.7" cy="319.9" r="1.72"/>
<circle class="k1" cx="46.3" cy="309.6" r="1.72"/>
<circle class="k2" cx="61.1" cy="313.5" r="1.72"/>
<circle class="k1" cx="43.1" cy="311.1" r="1.72"/>
<circle class="k2" cx="49.2" cy="279.1" r="1.72"/>
<circle class="k4" cx="147.6" cy="240.2" r="1.72"/>
<circle class="k2" cx="73.9" cy="318.7" r="1.72"/>
<circle class="k1" cx="54.8" cy="238.3" r="1.72"/>
<circle class="k4" cx="145.0" cy="240.5" r="1.72"/>
<circle class="k4" cx="145.0" cy="228.2" r="1.72"/>
<circle class="k4" cx="119.4" cy="249.2" r="1.72"/>
<circle class="k0" cx="35.8" cy="307.8" r="1.72"/>
<circle class="k4" cx="154.3" cy="235.1" r="1.72"/>
<circle class="k3" cx="93.3" cy="273.1" r="1.72"/>
<circle class="k1" cx="42.3" cy="313.8" r="1.72"/>
<circle class="k4" cx="144.5" cy="227.1" r="1.72"/>
<circle class="k1" cx="37.6" cy="319.7" r="1.72"/>
<circle class="k1" cx="46.1" cy="277.1" r="1.72"/>
<circle class="k1" cx="45.9" cy="320.2" r="1.72"/>
<circle class="k4" cx="120.1" cy="274.4" r="1.72"/>
<circle class="k1" cx="39.2" cy="319.7" r="1.72"/>
<circle class="k4" cx="117.4" cy="247.7" r="1.72"/>
<circle class="k2" cx="69.8" cy="231.8" r="1.72"/>
<circle class="k1" cx="46.0" cy="280.3" r="1.72"/>
<circle class="k1" cx="41.6" cy="316.8" r="1.72"/>
<circle class="k2" cx="51.1" cy="268.4" r="1.72"/>
<circle class="k4" cx="146.6" cy="272.2" r="1.72"/>
<circle class="k4" cx="162.7" cy="223.3" r="1.72"/>
<circle class="k4" cx="124.8" cy="245.9" r="1.72"/>
<circle class="k2" cx="56.4" cy="289.4" r="1.72"/>
<circle class="k1" cx="38.2" cy="310.9" r="1.72"/>
<circle class="k0" cx="36.6" cy="315.0" r="1.72"/>
<circle class="k0" cx="36.1" cy="313.3" r="1.72"/>
<circle class="k0" cx="37.3" cy="311.9" r="1.72"/>
<circle class="k0" cx="36.3" cy="318.0" r="1.72"/>
<circle class="k3" cx="91.3" cy="240.6" r="1.72"/>
<circle class="k4" cx="147.6" cy="287.6" r="1.72"/>
<circle class="k1" cx="39.3" cy="315.9" r="1.72"/>
<circle class="k4" cx="145.0" cy="237.7" r="1.72"/>
<circle class="k4" cx="144.6" cy="236.0" r="1.72"/>
<circle class="k1" cx="38.3" cy="312.3" r="1.72"/>
<circle class="k1" cx="50.5" cy="317.5" r="1.72"/>
<circle class="k4" cx="120.8" cy="225.6" r="1.72"/>
<circle class="k4" cx="102.4" cy="258.1" r="1.72"/>
<circle class="k3" cx="96.7" cy="258.6" r="1.72"/>
<circle class="k0" cx="37.6" cy="306.1" r="1.72"/>
<circle class="k4" cx="134.9" cy="293.2" r="1.72"/>
<circle class="k4" cx="107.4" cy="253.4" r="1.72"/>
<circle class="k1" cx="49.6" cy="310.3" r="1.72"/>
<circle class="k1" cx="38.5" cy="301.5" r="1.72"/>
<circle class="k3" cx="96.7" cy="269.3" r="1.72"/>
<circle class="k1" cx="40.6" cy="301.3" r="1.72"/>
<circle class="k3" cx="107.4" cy="298.1" r="1.72"/>
<circle class="k0" cx="35.9" cy="308.3" r="1.72"/>
<circle class="k1" cx="49.2" cy="294.6" r="1.72"/>
<circle class="k4" cx="113.0" cy="246.5" r="1.72"/>
<circle class="k3" cx="95.7" cy="248.7" r="1.72"/>
<circle class="k1" cx="39.3" cy="296.5" r="1.72"/>
<circle class="k1" cx="42.2" cy="278.1" r="1.72"/>
<circle class="k0" cx="36.3" cy="288.9" r="1.72"/>
<circle class="k1" cx="37.9" cy="315.2" r="1.72"/>
<circle class="k1" cx="37.5" cy="309.8" r="1.72"/>
<circle class="k4" cx="155.2" cy="239.9" r="1.72"/>
<circle class="k2" cx="58.8" cy="305.0" r="1.72"/>
<circle class="k1" cx="36.3" cy="274.3" r="1.72"/>
<circle class="k1" cx="46.1" cy="289.6" r="1.72"/>
<circle class="k0" cx="37.0" cy="313.6" r="1.72"/>
<circle class="k4" cx="144.9" cy="245.9" r="1.72"/>
<circle class="k4" cx="122.1" cy="241.9" r="1.72"/>
<circle class="k0" cx="36.9" cy="312.6" r="1.72"/>
<circle class="k4" cx="150.1" cy="231.0" r="1.72"/>
<circle class="k4" cx="132.5" cy="268.0" r="1.72"/>
<circle class="k1" cx="44.0" cy="305.1" r="1.72"/>
<circle class="k3" cx="87.9" cy="253.4" r="1.72"/>
<circle class="k0" cx="36.5" cy="319.3" r="1.72"/>
<circle class="k1" cx="44.4" cy="310.8" r="1.72"/>
<circle class="k1" cx="37.6" cy="295.2" r="1.72"/>
<circle class="k1" cx="39.0" cy="314.0" r="1.72"/>
<circle class="k0" cx="36.3" cy="316.9" r="1.72"/>
<circle class="k1" cx="37.4" cy="318.5" r="1.72"/>
<circle class="k1" cx="47.8" cy="311.5" r="1.72"/>
<circle class="k2" cx="68.8" cy="315.0" r="1.72"/>
<circle class="k1" cx="37.5" cy="299.9" r="1.72"/>
<circle class="k4" cx="163.7" cy="234.6" r="1.72"/>
<circle class="k1" cx="38.0" cy="318.0" r="1.72"/>
<circle class="k3" cx="95.7" cy="262.8" r="1.72"/>
<circle class="k4" cx="152.8" cy="235.0" r="1.72"/>
<circle class="k4" cx="151.2" cy="227.9" r="1.72"/>
<circle class="k1" cx="40.7" cy="288.3" r="1.72"/>
<circle class="k3" cx="95.7" cy="297.5" r="1.72"/>
<circle class="k2" cx="70.5" cy="257.5" r="1.72"/>
<circle class="k1" cx="37.9" cy="296.3" r="1.72"/>
<circle class="k3" cx="79.9" cy="250.0" r="1.72"/>
<circle class="k4" cx="129.2" cy="245.9" r="1.72"/>
<circle class="k1" cx="40.4" cy="313.4" r="1.72"/>
<circle class="k4" cx="134.2" cy="240.8" r="1.72"/>
<circle class="k2" cx="56.4" cy="256.8" r="1.72"/>
<circle class="k1" cx="38.6" cy="316.8" r="1.72"/>
<circle class="k4" cx="130.3" cy="237.6" r="1.72"/>
<circle class="k0" cx="36.0" cy="281.0" r="1.72"/>
<circle class="k3" cx="100.4" cy="248.3" r="1.72"/>
<circle class="k1" cx="37.9" cy="292.5" r="1.72"/>
<circle class="k3" cx="106.4" cy="278.7" r="1.72"/>
<circle class="k4" cx="118.3" cy="232.5" r="1.72"/>
<circle class="k4" cx="148.6" cy="240.5" r="1.72"/>
<circle class="k3" cx="99.7" cy="320.6" r="1.72"/>
<circle class="k4" cx="116.3" cy="247.6" r="1.72"/>
<circle class="k3" cx="76.5" cy="266.9" r="1.72"/>
<circle class="k3" cx="90.0" cy="268.4" r="1.72"/>
<circle class="k0" cx="36.6" cy="315.9" r="1.72"/>
<circle class="k0" cx="35.5" cy="315.3" r="1.72"/>
<circle class="k2" cx="67.2" cy="308.8" r="1.72"/>
<circle class="k4" cx="135.9" cy="283.8" r="1.72"/>
<circle class="k4" cx="146.7" cy="238.1" r="1.72"/>
<circle class="k1" cx="37.3" cy="315.2" r="1.72"/>
<circle class="k3" cx="102.4" cy="266.5" r="1.72"/>
<circle class="k1" cx="38.1" cy="317.9" r="1.72"/>
<circle class="k1" cx="36.5" cy="311.2" r="1.72"/>
<circle class="k1" cx="44.6" cy="311.0" r="1.72"/>
<circle class="k4" cx="122.6" cy="237.3" r="1.72"/>
<circle class="k1" cx="45.9" cy="313.7" r="1.72"/>
<circle class="k1" cx="39.5" cy="316.8" r="1.72"/>
<circle class="k1" cx="38.6" cy="288.6" r="1.72"/>
<circle class="k4" cx="102.2" cy="244.7" r="1.72"/>
<circle class="k1" cx="48.1" cy="283.4" r="1.72"/>
<circle class="k4" cx="143.3" cy="236.4" r="1.72"/>
<circle class="k2" cx="66.2" cy="313.1" r="1.72"/>
<circle class="k0" cx="36.9" cy="319.2" r="1.72"/>
<circle class="k4" cx="100.7" cy="302.6" r="1.72"/>
<circle class="k1" cx="37.3" cy="311.2" r="1.72"/>
<circle class="k1" cx="48.6" cy="317.9" r="1.72"/>
<circle class="k1" cx="40.3" cy="317.9" r="1.72"/>
<circle class="k4" cx="146.6" cy="236.1" r="1.72"/>
<circle class="k1" cx="38.7" cy="320.1" r="1.72"/>
<circle class="k4" cx="162.0" cy="246.2" r="1.72"/>
<circle class="k0" cx="36.6" cy="289.8" r="1.72"/>
<circle class="k0" cx="37.9" cy="319.1" r="1.72"/>
<circle class="k4" cx="120.5" cy="239.1" r="1.72"/>
<circle class="k1" cx="39.7" cy="287.5" r="1.72"/>
<circle class="k1" cx="40.6" cy="319.5" r="1.72"/>
<circle class="k4" cx="142.8" cy="226.1" r="1.72"/>
<circle class="k4" cx="114.2" cy="241.4" r="1.72"/>
<circle class="k1" cx="41.7" cy="306.9" r="1.72"/>
<circle class="k4" cx="115.8" cy="234.6" r="1.72"/>
<circle class="k2" cx="46.9" cy="287.0" r="1.72"/>
<circle class="k2" cx="53.8" cy="278.7" r="1.72"/>
<circle class="k0" cx="37.5" cy="311.7" r="1.72"/>
<circle class="k1" cx="35.6" cy="314.8" r="1.72"/>
<circle class="k1" cx="36.1" cy="303.3" r="1.72"/>
<circle class="k1" cx="39.1" cy="308.2" r="1.72"/>
<circle class="k1" cx="37.6" cy="314.6" r="1.72"/>
<circle class="k1" cx="39.1" cy="313.5" r="1.72"/>
<circle class="k1" cx="43.7" cy="313.2" r="1.72"/>
<circle class="k1" cx="39.4" cy="312.8" r="1.72"/>
<circle class="k4" cx="150.9" cy="232.4" r="1.72"/>
<circle class="k4" cx="121.6" cy="241.7" r="1.72"/>
<circle class="k4" cx="129.2" cy="292.8" r="1.72"/>
<circle class="k3" cx="93.3" cy="288.1" r="1.72"/>
<circle class="k4" cx="122.5" cy="258.1" r="1.72"/>
<circle class="k1" cx="49.7" cy="290.0" r="1.72"/>
<circle class="k2" cx="57.1" cy="303.1" r="1.72"/>
<circle class="k1" cx="38.5" cy="317.9" r="1.72"/>
<circle class="k4" cx="156.0" cy="225.6" r="1.72"/>
<circle class="k1" cx="38.4" cy="294.3" r="1.72"/>
<circle class="k1" cx="38.0" cy="273.9" r="1.72"/>
<circle class="k4" cx="131.5" cy="234.6" r="1.72"/>
<circle class="k4" cx="144.2" cy="232.7" r="1.72"/>
<circle class="k0" cx="35.5" cy="317.4" r="1.72"/>
<circle class="k3" cx="92.3" cy="258.1" r="1.72"/>
<circle class="k4" cx="147.6" cy="229.0" r="1.72"/>
<circle class="k4" cx="132.2" cy="230.7" r="1.72"/>
<circle class="k1" cx="38.2" cy="275.1" r="1.72"/>
<circle class="k1" cx="37.3" cy="318.3" r="1.72"/>
<circle class="k0" cx="36.5" cy="295.1" r="1.72"/>
<circle class="k4" cx="138.5" cy="234.9" r="1.72"/>
<circle class="k4" cx="118.1" cy="260.5" r="1.72"/>
<circle class="k4" cx="121.5" cy="238.9" r="1.72"/>
<circle class="k4" cx="114.8" cy="259.3" r="1.72"/>
<circle class="k1" cx="59.8" cy="317.2" r="1.72"/>
<circle class="k4" cx="147.0" cy="228.9" r="1.72"/>
<circle class="k3" cx="90.6" cy="309.3" r="1.72"/>
<circle class="k1" cx="38.8" cy="296.7" r="1.72"/>
<circle class="k1" cx="37.0" cy="313.1" r="1.72"/>
<circle class="k1" cx="38.7" cy="288.3" r="1.72"/>
<circle class="k4" cx="150.2" cy="227.6" r="1.72"/>
<circle class="k4" cx="129.2" cy="230.8" r="1.72"/>
<circle class="k1" cx="37.3" cy="317.8" r="1.72"/>
<circle class="k0" cx="37.3" cy="319.0" r="1.72"/>
<circle class="k4" cx="121.4" cy="246.4" r="1.72"/>
<circle class="k1" cx="45.5" cy="316.7" r="1.72"/>
<circle class="k0" cx="36.3" cy="283.4" r="1.72"/>
<circle class="k1" cx="39.3" cy="311.4" r="1.72"/>
<circle class="k4" cx="144.8" cy="241.9" r="1.72"/>
<circle class="k1" cx="40.6" cy="317.9" r="1.72"/>
<circle class="k0" cx="36.0" cy="281.0" r="1.72"/>
<circle class="k1" cx="37.0" cy="316.9" r="1.72"/>
<circle class="k0" cx="36.6" cy="318.2" r="1.72"/>
</g>
<path d="M374.10 113.60V212.20M411.10 113.60V212.20M448.10 113.60V212.20M337.30 184.90H469.90M337.30 157.20H469.90M337.30 129.50H469.90" stroke="#dedede" stroke-width=".8" fill="none"/>
<rect x="337.30" y="113.60" width="132.60" height="98.60" fill="none" stroke="#d6d6d6" stroke-width=".9"/>
<g class="pt">
<g fill="#984ea3">
<circle cx="341.3" cy="165.7" r="1.72"/>
<circle cx="343.8" cy="170.7" r="1.72"/>
<circle cx="337.5" cy="178.7" r="1.72"/>
<circle cx="354.6" cy="181.3" r="1.72"/>
<circle cx="397.7" cy="184.3" r="1.72"/>
<circle cx="340.5" cy="187.5" r="1.72"/>
<circle cx="342.5" cy="189.3" r="1.72"/>
<circle cx="348.8" cy="190.8" r="1.72"/>
<circle cx="353.8" cy="191.3" r="1.72"/>
<circle cx="338.8" cy="193.8" r="1.72"/>
<circle cx="345.0" cy="195.1" r="1.72"/>
<circle cx="365.1" cy="197.6" r="1.72"/>
<circle cx="372.6" cy="195.8" r="1.72"/>
<circle cx="392.2" cy="198.3" r="1.72"/>
<circle cx="411.5" cy="197.6" r="1.72"/>
<circle cx="412.3" cy="200.8" r="1.72"/>
<circle cx="392.7" cy="205.8" r="1.72"/>
<circle cx="397.2" cy="206.3" r="1.72"/>
<circle cx="401.5" cy="208.4" r="1.72"/>
<circle cx="415.8" cy="206.3" r="1.72"/>
<circle cx="349.3" cy="204.3" r="1.72"/>
<circle cx="385.0" cy="209.9" r="1.72"/>
<circle cx="344.9" cy="209.7" r="1.72"/>
<circle cx="349.0" cy="209.7" r="1.72"/>
<circle cx="339.0" cy="210.1" r="1.72"/>
<circle cx="346.4" cy="200.3" r="1.72"/>
<circle cx="347.0" cy="208.2" r="1.72"/>
<circle cx="342.9" cy="204.1" r="1.72"/>
<circle cx="349.9" cy="209.5" r="1.72"/>
<circle cx="339.8" cy="210.0" r="1.72"/>
<circle cx="349.3" cy="204.6" r="1.72"/>
<circle cx="343.1" cy="207.8" r="1.72"/>
<circle cx="348.2" cy="208.2" r="1.72"/>
<circle cx="340.8" cy="205.9" r="1.72"/>
<circle cx="358.7" cy="210.0" r="1.72"/>
<circle cx="380.0" cy="204.8" r="1.72"/>
<circle cx="389.9" cy="203.6" r="1.72"/>
<circle cx="375.0" cy="206.5" r="1.72"/>
<circle cx="383.7" cy="201.4" r="1.72"/>
<circle cx="377.3" cy="210.3" r="1.72"/>
<circle cx="343.5" cy="208.3" r="1.72"/>
<circle cx="341.1" cy="197.9" r="1.72"/>
<circle cx="338.5" cy="196.2" r="1.72"/>
<circle cx="347.4" cy="192.5" r="1.72"/>
<circle cx="339.0" cy="200.1" r="1.72"/>
<circle cx="339.8" cy="197.2" r="1.72"/>
<circle cx="343.9" cy="209.0" r="1.72"/>
<circle cx="339.7" cy="207.2" r="1.72"/>
<circle cx="347.4" cy="207.5" r="1.72"/>
<circle cx="343.5" cy="197.5" r="1.72"/>
<circle cx="365.4" cy="210.7" r="1.72"/>
<circle cx="339.7" cy="210.2" r="1.72"/>
<circle cx="388.2" cy="198.8" r="1.72"/>
<circle cx="345.4" cy="208.3" r="1.72"/>
<circle cx="343.9" cy="209.5" r="1.72"/>
<circle cx="344.2" cy="209.9" r="1.72"/>
<circle cx="376.4" cy="205.6" r="1.72"/>
<circle cx="343.9" cy="208.5" r="1.72"/>
<circle cx="349.3" cy="206.6" r="1.72"/>
<circle cx="339.2" cy="206.8" r="1.72"/>
<circle cx="343.7" cy="208.9" r="1.72"/>
<circle cx="340.4" cy="210.4" r="1.72"/>
<circle cx="348.5" cy="208.4" r="1.72"/>
<circle cx="346.7" cy="207.7" r="1.72"/>
<circle cx="362.5" cy="203.8" r="1.72"/>
<circle cx="345.4" cy="210.1" r="1.72"/>
<circle cx="370.2" cy="208.6" r="1.72"/>
<circle cx="350.8" cy="208.7" r="1.72"/>
<circle cx="347.2" cy="211.0" r="1.72"/>
<circle cx="348.0" cy="207.6" r="1.72"/>
<circle cx="348.0" cy="204.8" r="1.72"/>
<circle cx="344.4" cy="210.4" r="1.72"/>
<circle cx="368.0" cy="203.1" r="1.72"/>
<circle cx="338.9" cy="207.2" r="1.72"/>
<circle cx="373.0" cy="200.6" r="1.72"/>
<circle cx="389.3" cy="208.7" r="1.72"/>
<circle cx="343.0" cy="208.1" r="1.72"/>
<circle cx="358.4" cy="207.1" r="1.72"/>
<circle cx="343.8" cy="210.6" r="1.72"/>
<circle cx="343.5" cy="209.4" r="1.72"/>
<circle cx="352.1" cy="209.9" r="1.72"/>
<circle cx="352.2" cy="207.5" r="1.72"/>
<circle cx="375.7" cy="205.0" r="1.72"/>
<circle cx="363.9" cy="203.8" r="1.72"/>
<circle cx="352.0" cy="210.0" r="1.72"/>
<circle cx="351.7" cy="209.8" r="1.72"/>
<circle cx="345.4" cy="201.7" r="1.72"/>
<circle cx="348.4" cy="205.5" r="1.72"/>
<circle cx="342.9" cy="203.0" r="1.72"/>
<circle cx="368.8" cy="209.7" r="1.72"/>
<circle cx="343.9" cy="208.2" r="1.72"/>
<circle cx="348.4" cy="205.1" r="1.72"/>
<circle cx="347.0" cy="203.8" r="1.72"/>
<circle cx="361.5" cy="210.7" r="1.72"/>
<circle cx="379.5" cy="206.6" r="1.72"/>
<circle cx="351.6" cy="208.2" r="1.72"/>
<circle cx="339.0" cy="208.9" r="1.72"/>
<circle cx="347.2" cy="196.4" r="1.72"/>
<circle cx="355.3" cy="205.7" r="1.72"/>
<circle cx="349.1" cy="207.6" r="1.72"/>
<circle cx="348.1" cy="202.2" r="1.72"/>
<circle cx="343.2" cy="209.3" r="1.72"/>
<circle cx="367.2" cy="207.7" r="1.72"/>
<circle cx="349.8" cy="209.9" r="1.72"/>
<circle cx="339.2" cy="206.9" r="1.72"/>
<circle cx="344.5" cy="210.1" r="1.72"/>
<circle cx="344.2" cy="208.0" r="1.72"/>
<circle cx="346.6" cy="205.7" r="1.72"/>
<circle cx="364.3" cy="211.0" r="1.72"/>
<circle cx="348.1" cy="210.8" r="1.72"/>
<circle cx="361.7" cy="209.3" r="1.72"/>
<circle cx="356.2" cy="207.6" r="1.72"/>
<circle cx="370.5" cy="209.0" r="1.72"/>
<circle cx="341.8" cy="208.8" r="1.72"/>
<circle cx="347.1" cy="211.0" r="1.72"/>
<circle cx="339.4" cy="210.6" r="1.72"/>
<circle cx="371.0" cy="209.7" r="1.72"/>
<circle cx="356.6" cy="210.7" r="1.72"/>
<circle cx="340.2" cy="209.6" r="1.72"/>
<circle cx="372.8" cy="206.7" r="1.72"/>
<circle cx="341.0" cy="205.0" r="1.72"/>
<circle cx="344.0" cy="201.9" r="1.72"/>
<circle cx="379.3" cy="206.3" r="1.72"/>
<circle cx="390.9" cy="209.2" r="1.72"/>
<circle cx="339.5" cy="203.1" r="1.72"/>
<circle cx="342.9" cy="208.5" r="1.72"/>
<circle cx="372.3" cy="205.3" r="1.72"/>
<circle cx="367.0" cy="209.5" r="1.72"/>
<circle cx="347.7" cy="205.5" r="1.72"/>
<circle cx="372.2" cy="197.9" r="1.72"/>
<circle cx="354.5" cy="207.5" r="1.72"/>
<circle cx="365.3" cy="208.7" r="1.72"/>
<circle cx="349.0" cy="209.8" r="1.72"/>
<circle cx="374.1" cy="205.8" r="1.72"/>
<circle cx="345.9" cy="206.8" r="1.72"/>
<circle cx="351.6" cy="200.3" r="1.72"/>
<circle cx="350.9" cy="200.3" r="1.72"/>
<circle cx="343.5" cy="202.1" r="1.72"/>
<circle cx="401.9" cy="208.6" r="1.72"/>
<circle cx="342.4" cy="209.9" r="1.72"/>
<circle cx="363.6" cy="202.3" r="1.72"/>
<circle cx="346.7" cy="199.3" r="1.72"/>
<circle cx="354.7" cy="206.9" r="1.72"/>
<circle cx="349.3" cy="207.4" r="1.72"/>
<circle cx="344.4" cy="200.3" r="1.72"/>
<circle cx="361.4" cy="210.0" r="1.72"/>
<circle cx="358.0" cy="205.8" r="1.72"/>
<circle cx="342.8" cy="207.4" r="1.72"/>
<circle cx="348.9" cy="208.1" r="1.72"/>
<circle cx="357.5" cy="190.8" r="1.72"/>
<circle cx="341.9" cy="196.6" r="1.72"/>
<circle cx="356.2" cy="201.5" r="1.72"/>
<circle cx="343.2" cy="206.2" r="1.72"/>
<circle cx="346.8" cy="206.2" r="1.72"/>
<circle cx="341.6" cy="209.6" r="1.72"/>
<circle cx="380.1" cy="207.9" r="1.72"/>
<circle cx="362.1" cy="207.4" r="1.72"/>
<circle cx="343.6" cy="203.8" r="1.72"/>
<circle cx="359.9" cy="202.5" r="1.72"/>
<circle cx="341.9" cy="207.7" r="1.72"/>
<circle cx="341.0" cy="200.2" r="1.72"/>
<circle cx="354.2" cy="202.7" r="1.72"/>
<circle cx="351.1" cy="208.5" r="1.72"/>
<circle cx="344.3" cy="210.7" r="1.72"/>
<circle cx="343.1" cy="210.4" r="1.72"/>
<circle cx="350.9" cy="206.6" r="1.72"/>
<circle cx="350.1" cy="202.3" r="1.72"/>
<circle cx="349.1" cy="209.1" r="1.72"/>
<circle cx="351.8" cy="193.3" r="1.72"/>
<circle cx="339.6" cy="209.8" r="1.72"/>
<circle cx="360.8" cy="210.1" r="1.72"/>
<circle cx="360.5" cy="192.2" r="1.72"/>
<circle cx="351.1" cy="202.5" r="1.72"/>
<circle cx="343.2" cy="208.4" r="1.72"/>
<circle cx="338.7" cy="205.0" r="1.72"/>
<circle cx="346.7" cy="202.1" r="1.72"/>
<circle cx="341.1" cy="210.6" r="1.72"/>
<circle cx="351.0" cy="207.6" r="1.72"/>
<circle cx="339.9" cy="205.9" r="1.72"/>
<circle cx="343.8" cy="210.7" r="1.72"/>
<circle cx="371.3" cy="202.4" r="1.72"/>
<circle cx="345.0" cy="210.1" r="1.72"/>
<circle cx="352.1" cy="210.5" r="1.72"/>
<circle cx="365.8" cy="201.4" r="1.72"/>
<circle cx="370.8" cy="200.7" r="1.72"/>
<circle cx="356.0" cy="208.3" r="1.72"/>
<circle cx="339.0" cy="209.6" r="1.72"/>
<circle cx="345.4" cy="193.5" r="1.72"/>
<circle cx="350.0" cy="199.9" r="1.72"/>
<circle cx="343.8" cy="195.2" r="1.72"/>
<circle cx="339.2" cy="203.0" r="1.72"/>
<circle cx="380.0" cy="208.4" r="1.72"/>
<circle cx="345.3" cy="209.7" r="1.72"/>
<circle cx="350.0" cy="210.6" r="1.72"/>
<circle cx="374.3" cy="193.6" r="1.72"/>
<circle cx="343.4" cy="202.6" r="1.72"/>
<circle cx="385.0" cy="205.1" r="1.72"/>
<circle cx="343.5" cy="210.5" r="1.72"/>
<circle cx="378.5" cy="210.7" r="1.72"/>
<circle cx="376.4" cy="210.7" r="1.72"/>
<circle cx="338.6" cy="209.4" r="1.72"/>
<circle cx="359.2" cy="206.1" r="1.72"/>
<circle cx="372.8" cy="204.8" r="1.72"/>
<circle cx="346.4" cy="210.2" r="1.72"/>
<circle cx="346.0" cy="204.3" r="1.72"/>
<circle cx="348.8" cy="207.1" r="1.72"/>
<circle cx="353.0" cy="209.6" r="1.72"/>
<circle cx="353.5" cy="205.5" r="1.72"/>
<circle cx="384.4" cy="194.8" r="1.72"/>
<circle cx="358.9" cy="207.3" r="1.72"/>
<circle cx="364.4" cy="210.0" r="1.72"/>
<circle cx="348.8" cy="207.9" r="1.72"/>
<circle cx="358.6" cy="203.1" r="1.72"/>
<circle cx="360.4" cy="205.0" r="1.72"/>
<circle cx="358.8" cy="211.0" r="1.72"/>
<circle cx="344.4" cy="208.7" r="1.72"/>
<circle cx="356.3" cy="208.5" r="1.72"/>
<circle cx="348.7" cy="190.0" r="1.72"/>
<circle cx="350.3" cy="209.2" r="1.72"/>
<circle cx="356.4" cy="204.3" r="1.72"/>
<circle cx="367.3" cy="194.0" r="1.72"/>
<circle cx="353.8" cy="207.9" r="1.72"/>
<circle cx="339.8" cy="202.0" r="1.72"/>
<circle cx="358.3" cy="210.2" r="1.72"/>
<circle cx="340.7" cy="207.6" r="1.72"/>
<circle cx="354.1" cy="204.4" r="1.72"/>
<circle cx="346.6" cy="203.3" r="1.72"/>
<circle cx="342.0" cy="210.0" r="1.72"/>
<circle cx="341.3" cy="207.4" r="1.72"/>
<circle cx="354.7" cy="197.8" r="1.72"/>
<circle cx="360.4" cy="211.0" r="1.72"/>
<circle cx="384.5" cy="210.5" r="1.72"/>
<circle cx="342.7" cy="210.1" r="1.72"/>
<circle cx="349.5" cy="208.9" r="1.72"/>
<circle cx="358.9" cy="203.2" r="1.72"/>
</g>
<g fill="#ff7f00">
<circle cx="387.2" cy="121.5" r="1.72"/>
<circle cx="409.0" cy="124.8" r="1.72"/>
<circle cx="435.4" cy="119.8" r="1.72"/>
<circle cx="457.9" cy="118.5" r="1.72"/>
<circle cx="465.0" cy="121.0" r="1.72"/>
<circle cx="375.1" cy="126.1" r="1.72"/>
<circle cx="410.3" cy="129.1" r="1.72"/>
<circle cx="416.5" cy="128.6" r="1.72"/>
<circle cx="421.6" cy="128.6" r="1.72"/>
<circle cx="431.6" cy="128.1" r="1.72"/>
<circle cx="436.6" cy="126.1" r="1.72"/>
<circle cx="440.4" cy="123.5" r="1.72"/>
<circle cx="445.4" cy="122.3" r="1.72"/>
<circle cx="450.4" cy="123.5" r="1.72"/>
<circle cx="455.4" cy="124.8" r="1.72"/>
<circle cx="460.5" cy="126.1" r="1.72"/>
<circle cx="468.0" cy="127.3" r="1.72"/>
<circle cx="355.1" cy="132.8" r="1.72"/>
<circle cx="381.4" cy="133.1" r="1.72"/>
<circle cx="387.7" cy="136.1" r="1.72"/>
<circle cx="394.5" cy="135.6" r="1.72"/>
<circle cx="408.3" cy="133.6" r="1.72"/>
<circle cx="419.1" cy="134.8" r="1.72"/>
<circle cx="425.3" cy="133.1" r="1.72"/>
<circle cx="429.1" cy="131.1" r="1.72"/>
<circle cx="435.4" cy="132.3" r="1.72"/>
<circle cx="442.9" cy="131.1" r="1.72"/>
<circle cx="447.9" cy="129.8" r="1.72"/>
<circle cx="452.9" cy="131.1" r="1.72"/>
<circle cx="457.9" cy="132.3" r="1.72"/>
<circle cx="463.0" cy="129.8" r="1.72"/>
<circle cx="468.0" cy="132.3" r="1.72"/>
<circle cx="375.1" cy="141.6" r="1.72"/>
<circle cx="397.7" cy="138.1" r="1.72"/>
<circle cx="409.0" cy="136.1" r="1.72"/>
<circle cx="415.3" cy="137.3" r="1.72"/>
<circle cx="426.6" cy="137.3" r="1.72"/>
<circle cx="437.9" cy="136.1" r="1.72"/>
<circle cx="445.4" cy="136.1" r="1.72"/>
<circle cx="451.7" cy="134.8" r="1.72"/>
<circle cx="457.9" cy="136.1" r="1.72"/>
<circle cx="457.9" cy="141.1" r="1.72"/>
<circle cx="393.2" cy="143.6" r="1.72"/>
<circle cx="400.7" cy="143.6" r="1.72"/>
<circle cx="406.5" cy="141.6" r="1.72"/>
<circle cx="416.5" cy="143.1" r="1.72"/>
<circle cx="420.3" cy="142.4" r="1.72"/>
<circle cx="442.9" cy="142.4" r="1.72"/>
<circle cx="447.9" cy="139.9" r="1.72"/>
<circle cx="338.0" cy="152.4" r="1.72"/>
<circle cx="351.3" cy="152.4" r="1.72"/>
<circle cx="362.1" cy="151.1" r="1.72"/>
<circle cx="368.1" cy="151.6" r="1.72"/>
<circle cx="375.1" cy="147.4" r="1.72"/>
<circle cx="380.2" cy="147.4" r="1.72"/>
<circle cx="393.2" cy="148.6" r="1.72"/>
<circle cx="400.7" cy="146.1" r="1.72"/>
<circle cx="407.8" cy="146.1" r="1.72"/>
<circle cx="404.0" cy="149.9" r="1.72"/>
<circle cx="417.3" cy="148.1" r="1.72"/>
<circle cx="432.9" cy="144.9" r="1.72"/>
<circle cx="434.9" cy="149.9" r="1.72"/>
<circle cx="442.9" cy="148.6" r="1.72"/>
<circle cx="446.7" cy="151.1" r="1.72"/>
<circle cx="450.4" cy="150.6" r="1.72"/>
<circle cx="358.8" cy="157.9" r="1.72"/>
<circle cx="382.2" cy="156.9" r="1.72"/>
<circle cx="389.7" cy="154.2" r="1.72"/>
<circle cx="395.2" cy="155.7" r="1.72"/>
<circle cx="396.5" cy="158.7" r="1.72"/>
<circle cx="409.0" cy="154.2" r="1.72"/>
<circle cx="421.6" cy="157.4" r="1.72"/>
<circle cx="425.8" cy="154.9" r="1.72"/>
<circle cx="434.1" cy="157.4" r="1.72"/>
<circle cx="436.6" cy="154.2" r="1.72"/>
<circle cx="444.9" cy="153.2" r="1.72"/>
<circle cx="368.1" cy="163.2" r="1.72"/>
<circle cx="372.1" cy="164.2" r="1.72"/>
<circle cx="377.7" cy="164.9" r="1.72"/>
<circle cx="390.2" cy="161.2" r="1.72"/>
<circle cx="392.7" cy="162.4" r="1.72"/>
<circle cx="410.3" cy="162.4" r="1.72"/>
<circle cx="415.3" cy="159.9" r="1.72"/>
<circle cx="427.3" cy="161.2" r="1.72"/>
<circle cx="447.9" cy="163.2" r="1.72"/>
<circle cx="351.3" cy="172.5" r="1.72"/>
<circle cx="394.0" cy="172.5" r="1.72"/>
<circle cx="402.7" cy="168.7" r="1.72"/>
<circle cx="405.3" cy="170.0" r="1.72"/>
<circle cx="410.3" cy="173.7" r="1.72"/>
<circle cx="419.1" cy="171.7" r="1.72"/>
<circle cx="423.3" cy="170.7" r="1.72"/>
<circle cx="437.9" cy="167.5" r="1.72"/>
<circle cx="445.4" cy="175.7" r="1.72"/>
<circle cx="380.2" cy="178.7" r="1.72"/>
<circle cx="353.8" cy="180.0" r="1.72"/>
<circle cx="358.1" cy="190.8" r="1.72"/>
<circle cx="355.1" cy="211.4" r="1.72"/>
<circle cx="441.7" cy="136.5" r="1.72"/>
<circle cx="445.7" cy="123.3" r="1.72"/>
<circle cx="443.3" cy="136.5" r="1.72"/>
<circle cx="435.5" cy="131.8" r="1.72"/>
<circle cx="454.3" cy="120.7" r="1.72"/>
<circle cx="452.7" cy="129.2" r="1.72"/>
<circle cx="464.6" cy="122.0" r="1.72"/>
<circle cx="447.4" cy="131.0" r="1.72"/>
<circle cx="449.6" cy="130.1" r="1.72"/>
<circle cx="454.7" cy="132.3" r="1.72"/>
<circle cx="467.2" cy="131.5" r="1.72"/>
<circle cx="456.2" cy="124.3" r="1.72"/>
<circle cx="458.9" cy="120.6" r="1.72"/>
<circle cx="453.2" cy="127.8" r="1.72"/>
<circle cx="463.4" cy="120.1" r="1.72"/>
<circle cx="450.5" cy="124.8" r="1.72"/>
<circle cx="439.7" cy="129.3" r="1.72"/>
<circle cx="431.9" cy="126.3" r="1.72"/>
<circle cx="444.9" cy="125.5" r="1.72"/>
<circle cx="454.6" cy="131.7" r="1.72"/>
<circle cx="458.1" cy="119.1" r="1.72"/>
<circle cx="442.8" cy="120.7" r="1.72"/>
<circle cx="454.1" cy="133.4" r="1.72"/>
<circle cx="448.3" cy="127.8" r="1.72"/>
<circle cx="457.0" cy="132.3" r="1.72"/>
<circle cx="447.3" cy="127.3" r="1.72"/>
<circle cx="453.0" cy="118.4" r="1.72"/>
<circle cx="458.0" cy="123.1" r="1.72"/>
<circle cx="442.7" cy="135.4" r="1.72"/>
<circle cx="441.4" cy="131.3" r="1.72"/>
<circle cx="456.2" cy="119.2" r="1.72"/>
<circle cx="459.4" cy="131.9" r="1.72"/>
<circle cx="450.1" cy="117.9" r="1.72"/>
<circle cx="451.9" cy="126.1" r="1.72"/>
<circle cx="438.5" cy="138.8" r="1.72"/>
<circle cx="446.5" cy="131.3" r="1.72"/>
<circle cx="455.4" cy="128.9" r="1.72"/>
<circle cx="435.6" cy="119.1" r="1.72"/>
<circle cx="454.2" cy="137.3" r="1.72"/>
<circle cx="465.7" cy="121.9" r="1.72"/>
<circle cx="449.3" cy="129.2" r="1.72"/>
<circle cx="455.3" cy="140.4" r="1.72"/>
<circle cx="459.7" cy="126.0" r="1.72"/>
<circle cx="456.8" cy="131.0" r="1.72"/>
<circle cx="445.3" cy="121.8" r="1.72"/>
<circle cx="461.2" cy="135.7" r="1.72"/>
<circle cx="448.8" cy="133.1" r="1.72"/>
<circle cx="445.8" cy="136.8" r="1.72"/>
<circle cx="438.9" cy="130.9" r="1.72"/>
<circle cx="448.3" cy="126.6" r="1.72"/>
<circle cx="457.6" cy="130.8" r="1.72"/>
<circle cx="437.0" cy="132.5" r="1.72"/>
<circle cx="447.6" cy="127.5" r="1.72"/>
<circle cx="442.0" cy="122.4" r="1.72"/>
<circle cx="447.4" cy="118.5" r="1.72"/>
<circle cx="444.0" cy="120.1" r="1.72"/>
<circle cx="454.5" cy="123.6" r="1.72"/>
<circle cx="453.8" cy="126.7" r="1.72"/>
<circle cx="441.9" cy="131.8" r="1.72"/>
<circle cx="444.3" cy="131.5" r="1.72"/>
<circle cx="447.4" cy="125.7" r="1.72"/>
<circle cx="453.2" cy="130.2" r="1.72"/>
<circle cx="435.2" cy="127.1" r="1.72"/>
<circle cx="444.2" cy="132.4" r="1.72"/>
<circle cx="454.6" cy="128.7" r="1.72"/>
<circle cx="451.4" cy="128.6" r="1.72"/>
<circle cx="434.0" cy="128.7" r="1.72"/>
<circle cx="448.9" cy="125.5" r="1.72"/>
<circle cx="451.4" cy="131.3" r="1.72"/>
<circle cx="463.3" cy="126.2" r="1.72"/>
<circle cx="459.6" cy="124.4" r="1.72"/>
<circle cx="457.7" cy="122.5" r="1.72"/>
<circle cx="456.1" cy="133.1" r="1.72"/>
<circle cx="448.5" cy="122.5" r="1.72"/>
<circle cx="449.4" cy="131.4" r="1.72"/>
<circle cx="426.6" cy="132.6" r="1.72"/>
<circle cx="417.0" cy="139.3" r="1.72"/>
<circle cx="421.3" cy="141.9" r="1.72"/>
<circle cx="434.4" cy="139.3" r="1.72"/>
<circle cx="426.7" cy="135.6" r="1.72"/>
<circle cx="431.3" cy="134.4" r="1.72"/>
<circle cx="434.4" cy="140.2" r="1.72"/>
<circle cx="399.6" cy="137.1" r="1.72"/>
<circle cx="444.4" cy="136.9" r="1.72"/>
<circle cx="426.5" cy="133.0" r="1.72"/>
<circle cx="417.3" cy="139.2" r="1.72"/>
<circle cx="421.5" cy="135.5" r="1.72"/>
<circle cx="426.9" cy="128.9" r="1.72"/>
<circle cx="416.3" cy="142.7" r="1.72"/>
</g>
</g>
<path d="M222.30 222.30V320.90M259.30 222.30V320.90M296.30 222.30V320.90M185.50 293.60H318.10M185.50 265.90H318.10M185.50 238.20H318.10" stroke="#dedede" stroke-width=".8" fill="none"/>
<rect x="185.50" y="222.30" width="132.60" height="98.60" fill="none" stroke="#d6d6d6" stroke-width=".9"/>
<g class="pt">
<circle class="k1" cx="192.8" cy="308.1" r="1.72"/>
<circle class="k4" cx="305.9" cy="240.2" r="1.72"/>
<circle class="k4" cx="288.0" cy="228.4" r="1.72"/>
<circle class="k1" cx="188.0" cy="319.6" r="1.72"/>
<circle class="k4" cx="297.6" cy="258.1" r="1.72"/>
<circle class="k2" cx="245.6" cy="245.9" r="1.72"/>
<circle class="k1" cx="213.8" cy="308.8" r="1.72"/>
<circle class="k1" cx="197.0" cy="316.4" r="1.72"/>
<circle class="k1" cx="207.2" cy="320.2" r="1.72"/>
<circle class="k1" cx="189.2" cy="297.6" r="1.72"/>
<circle class="k1" cx="191.9" cy="318.6" r="1.72"/>
<circle class="k1" cx="190.8" cy="306.9" r="1.72"/>
<circle class="k0" cx="188.0" cy="316.3" r="1.72"/>
<circle class="k1" cx="223.1" cy="275.9" r="1.72"/>
<circle class="k2" cx="234.5" cy="240.2" r="1.72"/>
<circle class="k1" cx="198.0" cy="319.5" r="1.72"/>
<circle class="k1" cx="188.9" cy="285.4" r="1.72"/>
<circle class="k1" cx="191.9" cy="307.0" r="1.72"/>
<circle class="k4" cx="304.3" cy="236.5" r="1.72"/>
<circle class="k1" cx="192.6" cy="319.9" r="1.72"/>
<circle class="k1" cx="192.3" cy="317.0" r="1.72"/>
<circle class="k1" cx="189.3" cy="319.9" r="1.72"/>
<circle class="k4" cx="297.6" cy="261.8" r="1.72"/>
<circle class="k4" cx="294.4" cy="245.1" r="1.72"/>
<circle class="k2" cx="247.9" cy="318.2" r="1.72"/>
<circle class="k4" cx="300.9" cy="229.0" r="1.72"/>
<circle class="k1" cx="188.6" cy="315.1" r="1.72"/>
<circle class="k4" cx="308.2" cy="230.1" r="1.72"/>
<circle class="k1" cx="193.7" cy="276.3" r="1.72"/>
<circle class="k0" cx="188.0" cy="318.3" r="1.72"/>
<circle class="k1" cx="194.3" cy="279.7" r="1.72"/>
<circle class="k1" cx="201.9" cy="318.4" r="1.72"/>
<circle class="k4" cx="287.5" cy="240.2" r="1.72"/>
<circle class="k3" cx="263.4" cy="267.5" r="1.72"/>
<circle class="k1" cx="190.9" cy="316.7" r="1.72"/>
<circle class="k1" cx="192.3" cy="318.1" r="1.72"/>
<circle class="k1" cx="215.4" cy="312.6" r="1.72"/>
<circle class="k0" cx="187.4" cy="305.0" r="1.72"/>
<circle class="k1" cx="201.9" cy="319.9" r="1.72"/>
<circle class="k1" cx="190.3" cy="312.0" r="1.72"/>
<circle class="k3" cx="265.7" cy="310.7" r="1.72"/>
<circle class="k1" cx="192.1" cy="308.2" r="1.72"/>
<circle class="k0" cx="187.4" cy="303.8" r="1.72"/>
<circle class="k4" cx="293.6" cy="223.9" r="1.72"/>
<circle class="k4" cx="300.9" cy="246.8" r="1.72"/>
<circle class="k4" cx="306.5" cy="225.0" r="1.72"/>
<circle class="k1" cx="188.7" cy="319.9" r="1.72"/>
<circle class="k1" cx="202.2" cy="311.7" r="1.72"/>
<circle class="k4" cx="264.7" cy="240.6" r="1.72"/>
<circle class="k4" cx="292.5" cy="233.2" r="1.72"/>
<circle class="k0" cx="187.8" cy="290.3" r="1.72"/>
<circle class="k4" cx="308.9" cy="226.7" r="1.72"/>
<circle class="k1" cx="193.0" cy="314.7" r="1.72"/>
<circle class="k4" cx="298.6" cy="238.1" r="1.72"/>
<circle class="k4" cx="282.5" cy="238.3" r="1.72"/>
<circle class="k3" cx="272.4" cy="292.8" r="1.72"/>
<circle class="k4" cx="290.8" cy="268.0" r="1.72"/>
<circle class="k4" cx="299.2" cy="238.8" r="1.72"/>
<circle class="k1" cx="190.7" cy="316.9" r="1.72"/>
<circle class="k1" cx="195.5" cy="303.9" r="1.72"/>
<circle class="k2" cx="241.2" cy="256.8" r="1.72"/>
<circle class="k1" cx="205.4" cy="265.6" r="1.72"/>
<circle class="k4" cx="292.5" cy="231.5" r="1.72"/>
<circle class="k3" cx="269.1" cy="271.2" r="1.72"/>
<circle class="k1" cx="195.5" cy="292.4" r="1.72"/>
<circle class="k1" cx="188.8" cy="300.9" r="1.72"/>
<circle class="k1" cx="194.3" cy="319.2" r="1.72"/>
<circle class="k1" cx="192.3" cy="305.0" r="1.72"/>
<circle class="k1" cx="188.2" cy="316.8" r="1.72"/>
<circle class="k4" cx="291.6" cy="254.4" r="1.72"/>
<circle class="k1" cx="190.1" cy="316.2" r="1.72"/>
<circle class="k1" cx="206.7" cy="317.7" r="1.72"/>
<circle class="k1" cx="205.9" cy="319.3" r="1.72"/>
<circle class="k0" cx="189.5" cy="311.7" r="1.72"/>
<circle class="k4" cx="299.2" cy="223.3" r="1.72"/>
<circle class="k4" cx="308.0" cy="242.2" r="1.72"/>
<circle class="k1" cx="189.4" cy="298.9" r="1.72"/>
<circle class="k1" cx="198.8" cy="304.2" r="1.72"/>
<circle class="k1" cx="189.0" cy="310.4" r="1.72"/>
<circle class="k2" cx="242.3" cy="270.3" r="1.72"/>
<circle class="k1" cx="192.7" cy="305.4" r="1.72"/>
<circle class="k1" cx="195.4" cy="318.4" r="1.72"/>
<circle class="k1" cx="210.7" cy="293.4" r="1.72"/>
<circle class="k1" cx="197.7" cy="314.2" r="1.72"/>
<circle class="k2" cx="241.2" cy="316.3" r="1.72"/>
<circle class="k1" cx="200.2" cy="286.4" r="1.72"/>
<circle class="k4" cx="297.6" cy="235.7" r="1.72"/>
<circle class="k4" cx="279.1" cy="259.0" r="1.72"/>
<circle class="k1" cx="191.5" cy="312.5" r="1.72"/>
<circle class="k0" cx="187.8" cy="316.3" r="1.72"/>
<circle class="k4" cx="302.6" cy="232.7" r="1.72"/>
<circle class="k4" cx="274.1" cy="268.4" r="1.72"/>
<circle class="k2" cx="238.9" cy="310.7" r="1.72"/>
<circle class="k1" cx="193.9" cy="316.7" r="1.72"/>
<circle class="k1" cx="191.6" cy="289.1" r="1.72"/>
<circle class="k4" cx="310.0" cy="232.1" r="1.72"/>
<circle class="k1" cx="214.4" cy="305.6" r="1.72"/>
<circle class="k0" cx="188.5" cy="314.4" r="1.72"/>
<circle class="k1" cx="192.0" cy="310.9" r="1.72"/>
<circle class="k1" cx="190.2" cy="296.3" r="1.72"/>
<circle class="k4" cx="288.4" cy="242.2" r="1.72"/>
<circle class="k3" cx="251.3" cy="298.1" r="1.72"/>
<circle class="k4" cx="285.8" cy="262.8" r="1.72"/>
<circle class="k0" cx="187.8" cy="306.7" r="1.72"/>
<circle class="k4" cx="308.0" cy="233.6" r="1.72"/>
<circle class="k4" cx="294.2" cy="242.1" r="1.72"/>
<circle class="k1" cx="193.4" cy="292.9" r="1.72"/>
<circle class="k4" cx="280.1" cy="269.3" r="1.72"/>
<circle class="k1" cx="191.4" cy="316.9" r="1.72"/>
<circle class="k1" cx="199.3" cy="316.5" r="1.72"/>
<circle class="k1" cx="197.1" cy="301.2" r="1.72"/>
<circle class="k0" cx="188.1" cy="285.8" r="1.72"/>
<circle class="k1" cx="192.6" cy="319.3" r="1.72"/>
<circle class="k2" cx="239.9" cy="259.9" r="1.72"/>
<circle class="k4" cx="270.7" cy="279.3" r="1.72"/>
<circle class="k4" cx="310.1" cy="247.5" r="1.72"/>
<circle class="k1" cx="194.3" cy="318.5" r="1.72"/>
<circle class="k4" cx="294.2" cy="252.4" r="1.72"/>
<circle class="k4" cx="299.5" cy="247.8" r="1.72"/>
<circle class="k4" cx="288.2" cy="278.4" r="1.72"/>
<circle class="k1" cx="196.6" cy="317.0" r="1.72"/>
<circle class="k1" cx="201.7" cy="310.9" r="1.72"/>
<circle class="k1" cx="194.6" cy="307.7" r="1.72"/>
<circle class="k4" cx="293.1" cy="229.7" r="1.72"/>
<circle class="k1" cx="212.6" cy="303.7" r="1.72"/>
<circle class="k4" cx="286.4" cy="241.0" r="1.72"/>
<circle class="k0" cx="188.9" cy="311.8" r="1.72"/>
<circle class="k0" cx="187.4" cy="313.8" r="1.72"/>
<circle class="k4" cx="259.7" cy="287.6" r="1.72"/>
<circle class="k4" cx="301.4" cy="238.7" r="1.72"/>
<circle class="k0" cx="188.8" cy="305.2" r="1.72"/>
<circle class="k1" cx="195.1" cy="294.9" r="1.72"/>
<circle class="k1" cx="194.7" cy="312.9" r="1.72"/>
<circle class="k4" cx="295.9" cy="227.1" r="1.72"/>
<circle class="k1" cx="191.1" cy="315.1" r="1.72"/>
<circle class="k1" cx="191.2" cy="316.2" r="1.72"/>
<circle class="k4" cx="300.8" cy="235.3" r="1.72"/>
<circle class="k2" cx="249.0" cy="290.9" r="1.72"/>
<circle class="k1" cx="191.1" cy="310.4" r="1.72"/>
<circle class="k1" cx="190.2" cy="316.3" r="1.72"/>
<circle class="k1" cx="199.0" cy="301.5" r="1.72"/>
<circle class="k1" cx="204.9" cy="318.3" r="1.72"/>
<circle class="k1" cx="189.2" cy="315.4" r="1.72"/>
<circle class="k0" cx="188.6" cy="305.4" r="1.72"/>
<circle class="k1" cx="198.6" cy="308.5" r="1.72"/>
<circle class="k1" cx="190.7" cy="272.8" r="1.72"/>
<circle class="k1" cx="194.7" cy="291.9" r="1.72"/>
<circle class="k1" cx="191.1" cy="313.9" r="1.72"/>
<circle class="k4" cx="289.8" cy="250.8" r="1.72"/>
<circle class="k4" cx="298.2" cy="250.6" r="1.72"/>
<circle class="k0" cx="187.4" cy="301.0" r="1.72"/>
<circle class="k1" cx="190.6" cy="296.5" r="1.72"/>
<circle class="k1" cx="199.0" cy="311.6" r="1.72"/>
<circle class="k2" cx="230.5" cy="321.0" r="1.72"/>
<circle class="k1" cx="201.0" cy="265.0" r="1.72"/>
<circle class="k4" cx="283.9" cy="245.4" r="1.72"/>
<circle class="k4" cx="293.3" cy="242.8" r="1.72"/>
<circle class="k3" cx="259.0" cy="248.7" r="1.72"/>
<circle class="k1" cx="191.8" cy="314.1" r="1.72"/>
<circle class="k4" cx="311.0" cy="230.8" r="1.72"/>
<circle class="k1" cx="197.9" cy="305.0" r="1.72"/>
<circle class="k0" cx="188.2" cy="315.8" r="1.72"/>
<circle class="k4" cx="298.6" cy="234.4" r="1.72"/>
<circle class="k1" cx="200.1" cy="307.0" r="1.72"/>
<circle class="k4" cx="291.4" cy="237.7" r="1.72"/>
<circle class="k1" cx="192.3" cy="302.5" r="1.72"/>
<circle class="k4" cx="291.9" cy="307.8" r="1.72"/>
<circle class="k1" cx="195.7" cy="313.1" r="1.72"/>
<circle class="k1" cx="195.4" cy="285.5" r="1.72"/>
<circle class="k4" cx="294.2" cy="231.7" r="1.72"/>
<circle class="k1" cx="205.0" cy="295.0" r="1.72"/>
<circle class="k1" cx="189.6" cy="316.5" r="1.72"/>
<circle class="k4" cx="278.1" cy="261.8" r="1.72"/>
<circle class="k1" cx="199.5" cy="319.3" r="1.72"/>
<circle class="k4" cx="287.0" cy="241.8" r="1.72"/>
<circle class="k3" cx="270.7" cy="242.1" r="1.72"/>
<circle class="k1" cx="191.1" cy="313.0" r="1.72"/>
<circle class="k1" cx="201.3" cy="294.5" r="1.72"/>
<circle class="k1" cx="198.1" cy="319.7" r="1.72"/>
<circle class="k1" cx="198.7" cy="316.6" r="1.72"/>
<circle class="k3" cx="265.7" cy="320.6" r="1.72"/>
<circle class="k4" cx="294.0" cy="243.2" r="1.72"/>
<circle class="k4" cx="277.4" cy="273.7" r="1.72"/>
<circle class="k3" cx="252.3" cy="266.5" r="1.72"/>
<circle class="k1" cx="187.9" cy="315.9" r="1.72"/>
<circle class="k1" cx="190.5" cy="311.1" r="1.72"/>
<circle class="k4" cx="296.6" cy="237.3" r="1.72"/>
<circle class="k4" cx="293.8" cy="239.4" r="1.72"/>
<circle class="k1" cx="194.0" cy="304.7" r="1.72"/>
<circle class="k1" cx="188.6" cy="303.6" r="1.72"/>
<circle class="k1" cx="195.7" cy="289.2" r="1.72"/>
<circle class="k0" cx="190.4" cy="317.8" r="1.72"/>
<circle class="k2" cx="257.3" cy="276.9" r="1.72"/>
<circle class="k4" cx="300.9" cy="229.5" r="1.72"/>
<circle class="k4" cx="285.8" cy="254.3" r="1.72"/>
<circle class="k1" cx="201.8" cy="310.4" r="1.72"/>
<circle class="k1" cx="195.4" cy="312.9" r="1.72"/>
<circle class="k4" cx="310.2" cy="230.7" r="1.72"/>
<circle class="k1" cx="203.7" cy="283.0" r="1.72"/>
<circle class="k1" cx="196.0" cy="312.2" r="1.72"/>
<circle class="k1" cx="189.2" cy="295.9" r="1.72"/>
<circle class="k1" cx="191.4" cy="316.0" r="1.72"/>
<circle class="k4" cx="301.6" cy="237.6" r="1.72"/>
<circle class="k3" cx="261.4" cy="277.8" r="1.72"/>
<circle class="k3" cx="258.3" cy="305.0" r="1.72"/>
<circle class="k1" cx="198.9" cy="295.7" r="1.72"/>
<circle class="k3" cx="255.7" cy="262.8" r="1.72"/>
<circle class="k4" cx="277.4" cy="279.3" r="1.72"/>
<circle class="k3" cx="251.3" cy="238.3" r="1.72"/>
<circle class="k1" cx="193.1" cy="294.6" r="1.72"/>
<circle class="k1" cx="196.3" cy="308.6" r="1.72"/>
<circle class="k4" cx="296.6" cy="234.8" r="1.72"/>
<circle class="k3" cx="267.4" cy="302.6" r="1.72"/>
<circle class="k1" cx="194.3" cy="293.6" r="1.72"/>
<circle class="k4" cx="275.8" cy="249.6" r="1.72"/>
<circle class="k4" cx="289.2" cy="235.5" r="1.72"/>
<circle class="k4" cx="306.9" cy="283.8" r="1.72"/>
<circle class="k4" cx="288.3" cy="258.1" r="1.72"/>
<circle class="k1" cx="193.8" cy="289.7" r="1.72"/>
<circle class="k4" cx="293.4" cy="233.3" r="1.72"/>
<circle class="k3" cx="267.4" cy="239.3" r="1.72"/>
<circle class="k1" cx="190.8" cy="316.2" r="1.72"/>
<circle class="k3" cx="266.7" cy="298.1" r="1.72"/>
<circle class="k1" cx="191.0" cy="273.1" r="1.72"/>
<circle class="k4" cx="284.8" cy="275.9" r="1.72"/>
<circle class="k1" cx="191.1" cy="307.1" r="1.72"/>
<circle class="k1" cx="191.3" cy="312.5" r="1.72"/>
<circle class="k4" cx="295.3" cy="234.3" r="1.72"/>
<circle class="k1" cx="189.7" cy="316.7" r="1.72"/>
<circle class="k4" cx="311.0" cy="238.7" r="1.72"/>
<circle class="k4" cx="286.6" cy="239.9" r="1.72"/>
<circle class="k1" cx="205.0" cy="308.1" r="1.72"/>
<circle class="k1" cx="204.4" cy="280.0" r="1.72"/>
<circle class="k4" cx="282.0" cy="248.4" r="1.72"/>
<circle class="k4" cx="293.9" cy="235.7" r="1.72"/>
<circle class="k0" cx="188.0" cy="311.6" r="1.72"/>
<circle class="k4" cx="300.2" cy="238.0" r="1.72"/>
<circle class="k1" cx="191.0" cy="316.5" r="1.72"/>
<circle class="k1" cx="190.8" cy="310.8" r="1.72"/>
<circle class="k1" cx="208.7" cy="315.4" r="1.72"/>
<circle class="k1" cx="214.4" cy="306.1" r="1.72"/>
<circle class="k1" cx="190.9" cy="312.8" r="1.72"/>
<circle class="k4" cx="280.1" cy="292.8" r="1.72"/>
<circle class="k2" cx="227.2" cy="308.2" r="1.72"/>
<circle class="k4" cx="311.2" cy="234.5" r="1.72"/>
<circle class="k4" cx="305.8" cy="242.8" r="1.72"/>
<circle class="k4" cx="291.5" cy="232.2" r="1.72"/>
<circle class="k4" cx="292.2" cy="254.3" r="1.72"/>
<circle class="k0" cx="189.1" cy="319.4" r="1.72"/>
<circle class="k1" cx="197.9" cy="298.2" r="1.72"/>
<circle class="k4" cx="309.3" cy="247.7" r="1.72"/>
<circle class="k0" cx="187.0" cy="307.8" r="1.72"/>
<circle class="k1" cx="191.9" cy="313.1" r="1.72"/>
<circle class="k4" cx="297.0" cy="232.7" r="1.72"/>
<circle class="k1" cx="189.8" cy="281.0" r="1.72"/>
<circle class="k1" cx="194.4" cy="305.7" r="1.72"/>
<circle class="k1" cx="210.8" cy="315.1" r="1.72"/>
<circle class="k1" cx="191.8" cy="317.7" r="1.72"/>
<circle class="k1" cx="196.3" cy="314.6" r="1.72"/>
<circle class="k0" cx="188.8" cy="303.1" r="1.72"/>
<circle class="k1" cx="190.5" cy="315.9" r="1.72"/>
<circle class="k4" cx="292.5" cy="230.8" r="1.72"/>
<circle class="k1" cx="196.4" cy="306.9" r="1.72"/>
<circle class="k1" cx="188.8" cy="319.3" r="1.72"/>
<circle class="k4" cx="291.5" cy="288.1" r="1.72"/>
<circle class="k1" cx="199.9" cy="315.0" r="1.72"/>
<circle class="k4" cx="296.9" cy="266.5" r="1.72"/>
<circle class="k4" cx="287.5" cy="267.5" r="1.72"/>
<circle class="k2" cx="228.8" cy="308.8" r="1.72"/>
<circle class="k0" cx="188.1" cy="316.5" r="1.72"/>
<circle class="k1" cx="189.2" cy="312.4" r="1.72"/>
<circle class="k4" cx="263.4" cy="281.9" r="1.72"/>
<circle class="k4" cx="272.4" cy="289.1" r="1.72"/>
<circle class="k3" cx="252.3" cy="279.7" r="1.72"/>
<circle class="k4" cx="292.5" cy="223.3" r="1.72"/>
<circle class="k1" cx="197.9" cy="305.2" r="1.72"/>
<circle class="k4" cx="292.5" cy="247.7" r="1.72"/>
<circle class="k4" cx="280.8" cy="230.8" r="1.72"/>
<circle class="k3" cx="254.0" cy="253.7" r="1.72"/>
<circle class="k1" cx="203.0" cy="314.1" r="1.72"/>
<circle class="k1" cx="194.8" cy="313.4" r="1.72"/>
<circle class="k4" cx="287.0" cy="243.0" r="1.72"/>
<circle class="k0" cx="187.9" cy="300.1" r="1.72"/>
<circle class="k4" cx="293.6" cy="241.1" r="1.72"/>
<circle class="k0" cx="189.2" cy="315.1" r="1.72"/>
<circle class="k1" cx="199.2" cy="313.0" r="1.72"/>
<circle class="k2" cx="250.0" cy="295.1" r="1.72"/>
<circle class="k4" cx="293.3" cy="247.6" r="1.72"/>
<circle class="k1" cx="192.6" cy="312.6" r="1.72"/>
<circle class="k0" cx="188.8" cy="317.6" r="1.72"/>
<circle class="k1" cx="190.4" cy="300.2" r="1.72"/>
<circle class="k1" cx="199.6" cy="316.1" r="1.72"/>
<circle class="k1" cx="188.9" cy="316.0" r="1.72"/>
<circle class="k4" cx="294.6" cy="231.1" r="1.72"/>
<circle class="k1" cx="205.4" cy="300.3" r="1.72"/>
<circle class="k4" cx="271.4" cy="261.3" r="1.72"/>
<circle class="k1" cx="195.7" cy="294.6" r="1.72"/>
<circle class="k0" cx="188.2" cy="318.8" r="1.72"/>
<circle class="k0" cx="187.7" cy="313.1" r="1.72"/>
<circle class="k4" cx="287.5" cy="283.4" r="1.72"/>
<circle class="k4" cx="311.8" cy="236.7" r="1.72"/>
<circle class="k0" cx="187.8" cy="291.8" r="1.72"/>
<circle class="k4" cx="285.8" cy="233.6" r="1.72"/>
<circle class="k4" cx="287.5" cy="245.9" r="1.72"/>
<circle class="k0" cx="187.9" cy="303.0" r="1.72"/>
<circle class="k4" cx="306.3" cy="225.9" r="1.72"/>
<circle class="k4" cx="295.5" cy="237.1" r="1.72"/>
<circle class="k1" cx="189.7" cy="302.9" r="1.72"/>
<circle class="k1" cx="198.8" cy="310.8" r="1.72"/>
<circle class="k1" cx="193.8" cy="314.0" r="1.72"/>
<circle class="k1" cx="188.9" cy="317.3" r="1.72"/>
<circle class="k1" cx="189.3" cy="319.0" r="1.72"/>
<circle class="k1" cx="201.7" cy="314.3" r="1.72"/>
<circle class="k0" cx="188.1" cy="310.1" r="1.72"/>
<circle class="k1" cx="218.8" cy="318.7" r="1.72"/>
<circle class="k0" cx="188.5" cy="319.4" r="1.72"/>
<circle class="k4" cx="300.9" cy="292.8" r="1.72"/>
<circle class="k1" cx="189.4" cy="317.9" r="1.72"/>
<circle class="k4" cx="304.5" cy="240.0" r="1.72"/>
<circle class="k4" cx="297.3" cy="233.4" r="1.72"/>
<circle class="k4" cx="292.3" cy="246.5" r="1.72"/>
<circle class="k0" cx="188.7" cy="315.8" r="1.72"/>
<circle class="k2" cx="230.5" cy="289.1" r="1.72"/>
<circle class="k4" cx="291.1" cy="233.7" r="1.72"/>
<circle class="k1" cx="191.5" cy="308.8" r="1.72"/>
<circle class="k4" cx="297.4" cy="248.7" r="1.72"/>
<circle class="k4" cx="287.5" cy="230.8" r="1.72"/>
<circle class="k1" cx="211.1" cy="310.3" r="1.72"/>
<circle class="k4" cx="281.7" cy="232.8" r="1.72"/>
<circle class="k4" cx="294.3" cy="238.7" r="1.72"/>
<circle class="k1" cx="192.1" cy="310.0" r="1.72"/>
<circle class="k4" cx="305.6" cy="237.9" r="1.72"/>
<circle class="k1" cx="192.2" cy="312.2" r="1.72"/>
<circle class="k0" cx="189.1" cy="312.4" r="1.72"/>
<circle class="k1" cx="195.5" cy="320.1" r="1.72"/>
<circle class="k3" cx="268.1" cy="236.5" r="1.72"/>
<circle class="k4" cx="278.6" cy="262.0" r="1.72"/>
<circle class="k4" cx="299.0" cy="238.5" r="1.72"/>
<circle class="k3" cx="259.0" cy="258.1" r="1.72"/>
<circle class="k4" cx="300.7" cy="226.8" r="1.72"/>
<circle class="k4" cx="286.2" cy="274.5" r="1.72"/>
<circle class="k2" cx="243.9" cy="272.2" r="1.72"/>
<circle class="k1" cx="212.2" cy="313.6" r="1.72"/>
<circle class="k1" cx="193.3" cy="311.0" r="1.72"/>
<circle class="k1" cx="214.4" cy="312.5" r="1.72"/>
<circle class="k4" cx="295.9" cy="238.3" r="1.72"/>
<circle class="k4" cx="306.6" cy="240.3" r="1.72"/>
<circle class="k1" cx="188.8" cy="310.1" r="1.72"/>
<circle class="k3" cx="263.4" cy="246.8" r="1.72"/>
<circle class="k1" cx="191.9" cy="312.3" r="1.72"/>
<circle class="k1" cx="194.8" cy="309.0" r="1.72"/>
<circle class="k1" cx="208.5" cy="316.3" r="1.72"/>
<circle class="k4" cx="293.8" cy="237.2" r="1.72"/>
<circle class="k0" cx="188.7" cy="317.1" r="1.72"/>
<circle class="k1" cx="209.1" cy="285.9" r="1.72"/>
<circle class="k1" cx="197.1" cy="313.9" r="1.72"/>
<circle class="k4" cx="283.2" cy="248.4" r="1.72"/>
<circle class="k1" cx="196.4" cy="312.2" r="1.72"/>
<circle class="k4" cx="303.2" cy="229.6" r="1.72"/>
<circle class="k1" cx="216.4" cy="317.2" r="1.72"/>
<circle class="k1" cx="190.9" cy="289.2" r="1.72"/>
<circle class="k4" cx="262.4" cy="254.9" r="1.72"/>
<circle class="k1" cx="194.6" cy="314.2" r="1.72"/>
<circle class="k1" cx="210.1" cy="298.7" r="1.72"/>
<circle class="k0" cx="188.6" cy="315.4" r="1.72"/>
<circle class="k4" cx="304.2" cy="233.4" r="1.72"/>
<circle class="k1" cx="189.8" cy="311.4" r="1.72"/>
<circle class="k4" cx="307.6" cy="225.6" r="1.72"/>
<circle class="k1" cx="189.6" cy="320.2" r="1.72"/>
<circle class="k0" cx="190.0" cy="312.3" r="1.72"/>
<circle class="k4" cx="288.2" cy="254.2" r="1.72"/>
<circle class="k0" cx="188.4" cy="291.2" r="1.72"/>
<circle class="k4" cx="302.6" cy="267.5" r="1.72"/>
<circle class="k4" cx="302.6" cy="236.4" r="1.72"/>
<circle class="k0" cx="187.4" cy="313.7" r="1.72"/>
<circle class="k1" cx="191.7" cy="316.8" r="1.72"/>
<circle class="k4" cx="269.1" cy="248.1" r="1.72"/>
<circle class="k1" cx="192.1" cy="313.6" r="1.72"/>
<circle class="k4" cx="303.2" cy="232.1" r="1.72"/>
<circle class="k1" cx="201.8" cy="315.9" r="1.72"/>
<circle class="k1" cx="188.9" cy="310.1" r="1.72"/>
<circle class="k1" cx="198.1" cy="317.0" r="1.72"/>
<circle class="k1" cx="192.9" cy="319.7" r="1.72"/>
<circle class="k1" cx="193.4" cy="312.1" r="1.72"/>
<circle class="k1" cx="193.4" cy="289.6" r="1.72"/>
<circle class="k1" cx="206.9" cy="313.7" r="1.72"/>
<circle class="k1" cx="190.5" cy="282.2" r="1.72"/>
<circle class="k4" cx="292.4" cy="241.1" r="1.72"/>
<circle class="k4" cx="279.7" cy="258.3" r="1.72"/>
<circle class="k4" cx="294.2" cy="234.6" r="1.72"/>
<circle class="k3" cx="254.0" cy="281.5" r="1.72"/>
<circle class="k4" cx="279.1" cy="242.1" r="1.72"/>
<circle class="k4" cx="300.1" cy="233.9" r="1.72"/>
<circle class="k1" cx="193.7" cy="262.4" r="1.72"/>
<circle class="k1" cx="207.7" cy="294.7" r="1.72"/>
<circle class="k1" cx="189.4" cy="316.2" r="1.72"/>
<circle class="k4" cx="304.3" cy="244.0" r="1.72"/>
<circle class="k1" cx="197.4" cy="281.8" r="1.72"/>
<circle class="k1" cx="190.3" cy="319.8" r="1.72"/>
<circle class="k4" cx="301.7" cy="240.6" r="1.72"/>
<circle class="k4" cx="289.2" cy="259.9" r="1.72"/>
<circle class="k1" cx="199.3" cy="314.1" r="1.72"/>
<circle class="k4" cx="308.9" cy="241.3" r="1.72"/>
<circle class="k2" cx="237.2" cy="266.5" r="1.72"/>
<circle class="k4" cx="291.5" cy="255.2" r="1.72"/>
<circle class="k4" cx="297.1" cy="254.1" r="1.72"/>
<circle class="k1" cx="193.1" cy="319.7" r="1.72"/>
<circle class="k1" cx="201.2" cy="296.1" r="1.72"/>
<circle class="k1" cx="200.3" cy="299.8" r="1.72"/>
<circle class="k4" cx="296.6" cy="244.5" r="1.72"/>
<circle class="k3" cx="274.1" cy="273.7" r="1.72"/>
<circle class="k4" cx="283.3" cy="261.2" r="1.72"/>
<circle class="k1" cx="205.5" cy="316.5" r="1.72"/>
<circle class="k1" cx="210.4" cy="320.1" r="1.72"/>
<circle class="k4" cx="283.2" cy="261.5" r="1.72"/>
<circle class="k4" cx="300.6" cy="250.3" r="1.72"/>
<circle class="k2" cx="238.9" cy="278.7" r="1.72"/>
<circle class="k1" cx="189.3" cy="309.4" r="1.72"/>
<circle class="k1" cx="191.8" cy="298.7" r="1.72"/>
<circle class="k1" cx="197.1" cy="302.3" r="1.72"/>
<circle class="k4" cx="304.8" cy="230.8" r="1.72"/>
<circle class="k4" cx="305.7" cy="231.0" r="1.72"/>
</g>
<rect x="33.00" y="5.00" width="132.60" height="98.60" fill="none" stroke="#d6d6d6" stroke-width=".9"/>
<text class="l" text-anchor="middle" x="99.8" y="52.0">SARS2</text>
<text class="l" text-anchor="middle" x="99.8" y="63.2">RBD</text>
<rect x="185.50" y="113.60" width="132.60" height="98.60" fill="none" stroke="#d6d6d6" stroke-width=".9"/>
<text class="l" text-anchor="middle" x="252.3" y="160.6">SARS2</text>
<text class="l" text-anchor="middle" x="252.3" y="171.8">S1S2</text>
<rect x="337.30" y="222.30" width="132.60" height="98.60" fill="none" stroke="#d6d6d6" stroke-width=".9"/>
<text class="l" text-anchor="middle" x="404.1" y="269.3">SARS2</text>
<text class="l" text-anchor="middle" x="404.1" y="280.5">N</text>
<path d="M69.80 331.00V429.60M106.80 331.00V429.60M143.80 331.00V429.60M33.00 399.90H165.60M33.00 370.20H165.60M33.00 340.50H165.60" stroke="#dedede" stroke-width=".8" fill="none"/>
<g class="bar" clip-path="url(#c30)">
<rect x="33.00" y="393.37" width="7.37" height="36.23" fill="#0571b0"/>
<rect x="33.00" y="331.59" width="7.37" height="61.78" fill="#92c5de"/>
<rect x="40.37" y="388.02" width="7.37" height="41.58" fill="#92c5de"/>
<rect x="40.37" y="387.43" width="7.37" height="0.59" fill="#f7f7f7"/>
<rect x="47.73" y="424.37" width="7.37" height="5.23" fill="#92c5de"/>
<rect x="47.73" y="422.47" width="7.37" height="1.90" fill="#f7f7f7"/>
<rect x="47.73" y="421.76" width="7.37" height="0.71" fill="#f4a582"/>
<rect x="55.10" y="426.87" width="7.37" height="2.73" fill="#92c5de"/>
<rect x="55.10" y="424.37" width="7.37" height="2.49" fill="#f7f7f7"/>
<rect x="62.47" y="427.82" width="7.37" height="1.78" fill="#92c5de"/>
<rect x="62.47" y="425.80" width="7.37" height="2.02" fill="#f7f7f7"/>
<rect x="62.47" y="425.38" width="7.37" height="0.42" fill="#ca0020"/>
<rect x="69.83" y="428.29" width="7.37" height="1.31" fill="#92c5de"/>
<rect x="69.83" y="426.81" width="7.37" height="1.48" fill="#f7f7f7"/>
<rect x="69.83" y="426.10" width="7.37" height="0.71" fill="#ca0020"/>
<rect x="77.20" y="425.80" width="7.37" height="3.80" fill="#f4a582"/>
<rect x="84.57" y="425.44" width="7.37" height="4.16" fill="#f4a582"/>
<rect x="84.57" y="424.67" width="7.37" height="0.77" fill="#f7f7f7"/>
<rect x="91.93" y="424.97" width="7.37" height="4.63" fill="#f4a582"/>
<rect x="91.93" y="422.77" width="7.37" height="2.20" fill="#ca0020"/>
<rect x="99.30" y="427.11" width="7.37" height="2.49" fill="#f4a582"/>
<rect x="99.30" y="423.18" width="7.37" height="3.92" fill="#ca0020"/>
<rect x="106.67" y="428.41" width="7.37" height="1.19" fill="#f4a582"/>
<rect x="106.67" y="423.48" width="7.37" height="4.93" fill="#ca0020"/>
<rect x="114.03" y="417.72" width="7.37" height="11.88" fill="#ca0020"/>
<rect x="121.40" y="423.66" width="7.37" height="5.94" fill="#ca0020"/>
<rect x="128.77" y="416.24" width="7.37" height="13.37" fill="#ca0020"/>
<rect x="136.13" y="408.22" width="7.37" height="21.38" fill="#ca0020"/>
<rect x="143.50" y="417.72" width="7.37" height="11.88" fill="#ca0020"/>
<rect x="150.87" y="425.80" width="7.37" height="3.80" fill="#ca0020"/>
<rect x="158.23" y="426.33" width="7.37" height="3.27" fill="#ca0020"/>
</g>
<rect x="33.00" y="331.00" width="132.60" height="98.60" fill="none" stroke="#d6d6d6" stroke-width=".9"/>
<text class="t" text-anchor="middle" x="33.0" y="438.4">0.0</text>
<text class="t" text-anchor="middle" x="70.0" y="438.4">0.5</text>
<text class="t" text-anchor="middle" x="107.0" y="438.4">1.0</text>
<text class="t" text-anchor="middle" x="144.0" y="438.4">1.5</text>
<text class="t" text-anchor="end" x="30.2" y="432.6">0</text>
<text class="t" text-anchor="end" x="30.2" y="402.9">50</text>
<text class="t" text-anchor="end" x="30.2" y="373.2">100</text>
<text class="t" text-anchor="end" x="30.2" y="343.5">150</text>
<text class="l" text-anchor="middle" x="99.3" y="450.4">SARS2 RBD</text>
<path d="M222.30 331.00V429.60M259.30 331.00V429.60M296.30 331.00V429.60M185.50 412.10H318.10M185.50 394.60H318.10M185.50 377.10H318.10M185.50 359.60H318.10M185.50 342.10H318.10" stroke="#dedede" stroke-width=".8" fill="none"/>
<g class="bar" clip-path="url(#c31)">
<rect x="185.50" y="386.55" width="7.37" height="43.05" fill="#0571b0"/>
<rect x="185.50" y="330.55" width="7.37" height="56.00" fill="#92c5de"/>
<rect x="192.87" y="379.90" width="7.37" height="49.70" fill="#92c5de"/>
<rect x="200.23" y="410.42" width="7.37" height="19.18" fill="#92c5de"/>
<rect x="207.60" y="423.79" width="7.37" height="5.81" fill="#92c5de"/>
<rect x="207.60" y="423.16" width="7.37" height="0.63" fill="#f7f7f7"/>
<rect x="214.97" y="428.90" width="7.37" height="0.70" fill="#92c5de"/>
<rect x="214.97" y="428.27" width="7.37" height="0.63" fill="#f7f7f7"/>
<rect x="222.33" y="428.76" width="7.37" height="0.84" fill="#92c5de"/>
<rect x="222.33" y="427.08" width="7.37" height="1.68" fill="#f7f7f7"/>
<rect x="229.70" y="427.99" width="7.37" height="1.61" fill="#92c5de"/>
<rect x="229.70" y="426.80" width="7.37" height="1.19" fill="#f7f7f7"/>
<rect x="237.07" y="426.80" width="7.37" height="2.80" fill="#f7f7f7"/>
<rect x="237.07" y="424.91" width="7.37" height="1.89" fill="#f4a582"/>
<rect x="244.43" y="426.80" width="7.37" height="2.80" fill="#f7f7f7"/>
<rect x="244.43" y="425.82" width="7.37" height="0.98" fill="#f4a582"/>
<rect x="251.80" y="427.15" width="7.37" height="2.45" fill="#f7f7f7"/>
<rect x="251.80" y="420.99" width="7.37" height="6.16" fill="#f4a582"/>
<rect x="259.17" y="422.18" width="7.37" height="7.42" fill="#f4a582"/>
<rect x="266.53" y="425.82" width="7.37" height="3.78" fill="#f4a582"/>
<rect x="266.53" y="418.12" width="7.37" height="7.70" fill="#ca0020"/>
<rect x="273.90" y="429.04" width="7.37" height="0.56" fill="#f4a582"/>
<rect x="273.90" y="421.69" width="7.37" height="7.35" fill="#ca0020"/>
<rect x="281.27" y="409.09" width="7.37" height="20.51" fill="#ca0020"/>
<rect x="288.63" y="407.20" width="7.37" height="22.40" fill="#ca0020"/>
<rect x="296.00" y="400.20" width="7.37" height="29.40" fill="#ca0020"/>
<rect x="303.37" y="419.80" width="7.37" height="9.80" fill="#ca0020"/>
<rect x="310.73" y="428.90" width="7.37" height="0.70" fill="#ca0020"/>
</g>
<rect x="185.50" y="331.00" width="132.60" height="98.60" fill="none" stroke="#d6d6d6" stroke-width=".9"/>
<text class="t" text-anchor="middle" x="185.5" y="438.4">0.0</text>
<text class="t" text-anchor="middle" x="222.5" y="438.4">0.5</text>
<text class="t" text-anchor="middle" x="259.5" y="438.4">1.0</text>
<text class="t" text-anchor="middle" x="296.5" y="438.4">1.5</text>
<text class="t" text-anchor="end" x="182.7" y="432.6">0</text>
<text class="t" text-anchor="end" x="182.7" y="415.1">25</text>
<text class="t" text-anchor="end" x="182.7" y="397.6">50</text>
<text class="t" text-anchor="end" x="182.7" y="380.1">75</text>
<text class="t" text-anchor="end" x="182.7" y="362.6">100</text>
<text class="t" text-anchor="end" x="182.7" y="345.1">125</text>
<text class="l" text-anchor="middle" x="251.8" y="450.4">SARS2 S1S2</text>
<path d="M374.10 331.00V429.60M411.10 331.00V429.60M448.10 331.00V429.60M337.30 406.75H469.90M337.30 383.90H469.90M337.30 361.05H469.90M337.30 338.20H469.90" stroke="#dedede" stroke-width=".8" fill="none"/>
<g class="bar" clip-path="url(#c32)">
<rect x="337.30" y="389.61" width="7.37" height="39.99" fill="#0571b0"/>
<rect x="337.30" y="335.34" width="7.37" height="54.27" fill="#92c5de"/>
<rect x="337.30" y="331.35" width="7.37" height="4.00" fill="#f4a582"/>
<rect x="344.67" y="415.20" width="7.37" height="14.40" fill="#0571b0"/>
<rect x="344.67" y="345.06" width="7.37" height="70.15" fill="#92c5de"/>
<rect x="344.67" y="343.91" width="7.37" height="1.14" fill="#f4a582"/>
<rect x="352.03" y="423.32" width="7.37" height="6.28" fill="#0571b0"/>
<rect x="352.03" y="393.04" width="7.37" height="30.28" fill="#92c5de"/>
<rect x="352.03" y="389.61" width="7.37" height="3.43" fill="#f7f7f7"/>
<rect x="352.03" y="387.33" width="7.37" height="2.29" fill="#ca0020"/>
<rect x="359.40" y="424.12" width="7.37" height="5.48" fill="#0571b0"/>
<rect x="359.40" y="402.52" width="7.37" height="21.59" fill="#92c5de"/>
<rect x="359.40" y="401.27" width="7.37" height="1.26" fill="#f4a582"/>
<rect x="366.77" y="428.69" width="7.37" height="0.91" fill="#0571b0"/>
<rect x="366.77" y="417.26" width="7.37" height="11.43" fill="#92c5de"/>
<rect x="366.77" y="414.18" width="7.37" height="3.08" fill="#f7f7f7"/>
<rect x="366.77" y="411.66" width="7.37" height="2.51" fill="#f4a582"/>
<rect x="374.13" y="412.46" width="7.37" height="17.14" fill="#92c5de"/>
<rect x="374.13" y="410.98" width="7.37" height="1.49" fill="#f4a582"/>
<rect x="374.13" y="405.49" width="7.37" height="5.48" fill="#ca0020"/>
<rect x="381.50" y="428.69" width="7.37" height="0.91" fill="#0571b0"/>
<rect x="381.50" y="423.32" width="7.37" height="5.37" fill="#92c5de"/>
<rect x="381.50" y="421.95" width="7.37" height="1.37" fill="#f7f7f7"/>
<rect x="381.50" y="418.29" width="7.37" height="3.66" fill="#ca0020"/>
<rect x="388.87" y="425.26" width="7.37" height="4.34" fill="#92c5de"/>
<rect x="388.87" y="422.86" width="7.37" height="2.40" fill="#f7f7f7"/>
<rect x="388.87" y="419.66" width="7.37" height="3.20" fill="#f4a582"/>
<rect x="388.87" y="413.95" width="7.37" height="5.71" fill="#ca0020"/>
<rect x="396.23" y="424.57" width="7.37" height="5.03" fill="#92c5de"/>
<rect x="396.23" y="421.83" width="7.37" height="2.74" fill="#f4a582"/>
<rect x="396.23" y="419.43" width="7.37" height="2.40" fill="#ca0020"/>
<rect x="403.60" y="427.54" width="7.37" height="2.06" fill="#f7f7f7"/>
<rect x="403.60" y="422.40" width="7.37" height="5.14" fill="#f4a582"/>
<rect x="403.60" y="411.32" width="7.37" height="11.08" fill="#ca0020"/>
<rect x="410.97" y="426.63" width="7.37" height="2.97" fill="#92c5de"/>
<rect x="410.97" y="425.94" width="7.37" height="0.69" fill="#f7f7f7"/>
<rect x="410.97" y="424.34" width="7.37" height="1.60" fill="#f4a582"/>
<rect x="410.97" y="414.06" width="7.37" height="10.28" fill="#ca0020"/>
<rect x="418.33" y="427.43" width="7.37" height="2.17" fill="#f7f7f7"/>
<rect x="418.33" y="425.72" width="7.37" height="1.71" fill="#f4a582"/>
<rect x="418.33" y="415.20" width="7.37" height="10.51" fill="#ca0020"/>
<rect x="425.70" y="427.43" width="7.37" height="2.17" fill="#f4a582"/>
<rect x="425.70" y="423.32" width="7.37" height="4.11" fill="#ca0020"/>
<rect x="433.07" y="426.63" width="7.37" height="2.97" fill="#f4a582"/>
<rect x="433.07" y="409.26" width="7.37" height="17.37" fill="#ca0020"/>
<rect x="440.43" y="423.20" width="7.37" height="6.40" fill="#f4a582"/>
<rect x="440.43" y="394.07" width="7.37" height="29.13" fill="#ca0020"/>
<rect x="447.80" y="390.75" width="7.37" height="38.84" fill="#ca0020"/>
<rect x="455.17" y="409.26" width="7.37" height="20.34" fill="#ca0020"/>
<rect x="462.53" y="423.09" width="7.37" height="6.51" fill="#ca0020"/>
</g>
<rect x="337.30" y="331.00" width="132.60" height="98.60" fill="none" stroke="#d6d6d6" stroke-width=".9"/>
<text class="t" text-anchor="middle" x="337.3" y="438.4">0.0</text>
<text class="t" text-anchor="middle" x="374.3" y="438.4">0.5</text>
<text class="t" text-anchor="middle" x="411.3" y="438.4">1.0</text>
<text class="t" text-anchor="middle" x="448.3" y="438.4">1.5</text>
<text class="t" text-anchor="end" x="334.5" y="432.6">0</text>
<text class="t" text-anchor="end" x="334.5" y="409.8">20</text>
<text class="t" text-anchor="end" x="334.5" y="386.9">40</text>
<text class="t" text-anchor="end" x="334.5" y="364.1">60</text>
<text class="t" text-anchor="end" x="334.5" y="341.2">80</text>
<text class="l" text-anchor="middle" x="403.6" y="450.4">SARS2 N</text>
<text class="t" text-anchor="end" x="30.2" y="106.9">0.0</text>
<text class="t" text-anchor="end" x="30.2" y="79.2">0.5</text>
<text class="t" text-anchor="end" x="30.2" y="51.5">1.0</text>
<text class="t" text-anchor="end" x="30.2" y="23.8">1.5</text>
<text class="l" text-anchor="middle" transform="translate(14.6 54.3) rotate(-90)">SARS2 RBD</text>
<text class="t" text-anchor="end" x="30.2" y="215.5">0.0</text>
<text class="t" text-anchor="end" x="30.2" y="187.8">0.5</text>
<text class="t" text-anchor="end" x="30.2" y="160.1">1.0</text>
<text class="t" text-anchor="end" x="30.2" y="132.4">1.5</text>
<text class="l" text-anchor="middle" transform="translate(14.6 162.9) rotate(-90)">SARS2 S1S2</text>
<text class="t" text-anchor="end" x="30.2" y="324.2">0.0</text>
<text class="t" text-anchor="end" x="30.2" y="296.5">0.5</text>
<text class="t" text-anchor="end" x="30.2" y="268.8">1.0</text>
<text class="t" text-anchor="end" x="30.2" y="241.1">1.5</text>
<text class="l" text-anchor="middle" transform="translate(14.6 271.6) rotate(-90)">SARS2 N</text>
<text class="l" text-anchor="middle" transform="translate(13.2 380.3) rotate(-90)">Count</text>
<text class="P" x="2.8" y="16.2">A</text>
<text class="P" x="3.4" y="342.0">B</text>
<g class="pt">
<circle cx="478.6" cy="16.3" r="2.25" fill="#ff7f00"/>
<circle cx="484.3" cy="15.6" r="2.25" fill="#ff7f00"/>
<circle cx="489.9" cy="16.6" r="2.25" fill="#ff7f00"/>
<circle cx="478.6" cy="27.1" r="2.25" fill="#984ea3"/>
<circle cx="484.3" cy="26.4" r="2.25" fill="#984ea3"/>
<circle cx="489.9" cy="27.4" r="2.25" fill="#984ea3"/>
</g>
<text class="g" x="498.8" y="18.4">SARS2 PCR+</text>
<text class="g" x="498.8" y="29.1">Pre-pandemic</text>
<path d="M480.7 327.9L486.5 310.0L492.4 327.9Z" fill="#ca0020"/>
<rect x="480.7" y="327.9" width="11.7" height="24.9" fill="#f4a582"/>
<rect x="480.7" y="352.8" width="11.7" height="24.9" fill="#f7f7f7"/>
<rect x="480.7" y="377.7" width="11.7" height="25.0" fill="#92c5de"/>
<path d="M480.7 402.7L486.5 420.4L492.4 402.7Z" fill="#0571b0"/>
<text class="g" x="495.9" y="330.3" xml:space="preserve">1.5  (0.97)</text>
<text class="g" x="495.9" y="355.2" xml:space="preserve">0.5  (0.76)</text>
<text class="g" x="493.7" y="380.1" xml:space="preserve">−0.5 (0.24)</text>
<text class="g" x="493.7" y="405.1" xml:space="preserve">−1.5 (0.03)</text>
<text class="g" style="font-size:7.95px" text-anchor="middle" transform="translate(541.0 365.3) rotate(-90)">Seroconversion log<tspan font-size="5.6" dy="1.6">10</tspan><tspan dy="-1.6"> odds (p)</tspan></text>
</svg></body></html>
